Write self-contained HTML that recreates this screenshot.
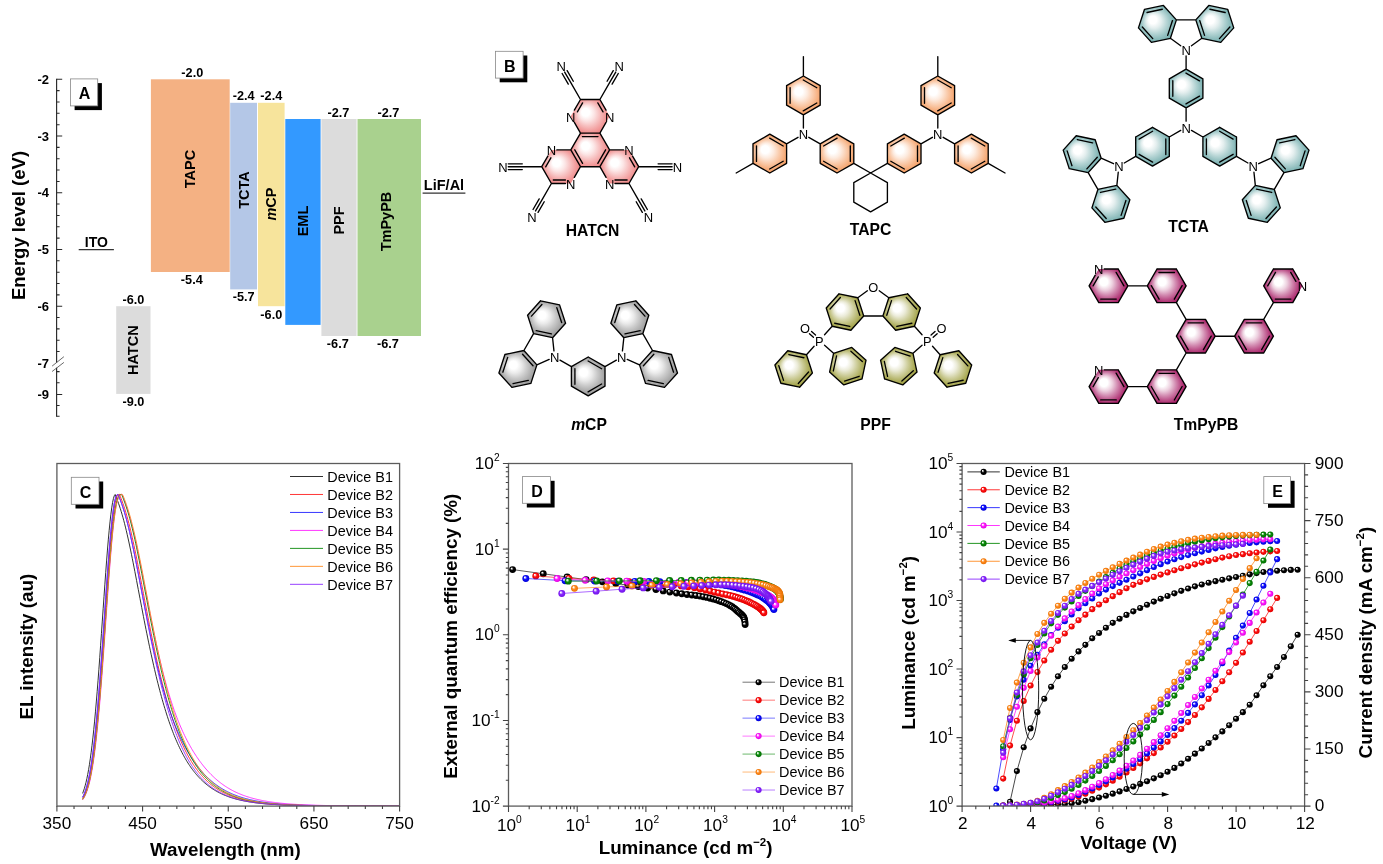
<!DOCTYPE html>
<html lang="en"><head><meta charset="utf-8"><title>Figure</title>
<style>html,body{margin:0;padding:0;background:#fff}svg{display:block;will-change:transform}text{font-family:"Liberation Sans",sans-serif;fill:#000}</style></head><body>
<svg width="1383" height="864" viewBox="0 0 1383 864">
<defs><radialGradient id="gH" gradientUnits="userSpaceOnUse" cx="0" cy="0" r="19.8" fx="-5.8" fy="-5"><stop offset="0" stop-color="#ffffff"/><stop offset="0.2" stop-color="#ffffff"/><stop offset="0.38" stop-color="#fce6e6"/><stop offset="0.58" stop-color="#f7c2c2"/><stop offset="0.76" stop-color="#f3a3a3"/><stop offset="0.9" stop-color="#f08d8d"/><stop offset="1" stop-color="#ef8484"/></radialGradient>
<radialGradient id="gT" gradientUnits="userSpaceOnUse" cx="0" cy="0" r="19.8" fx="-5.8" fy="-5"><stop offset="0" stop-color="#ffffff"/><stop offset="0.2" stop-color="#ffffff"/><stop offset="0.38" stop-color="#fdebdf"/><stop offset="0.58" stop-color="#faceb0"/><stop offset="0.76" stop-color="#f7b588"/><stop offset="0.9" stop-color="#f5a36b"/><stop offset="1" stop-color="#f49c60"/></radialGradient>
<radialGradient id="gC" gradientUnits="userSpaceOnUse" cx="0" cy="0" r="19.8" fx="-5.8" fy="-5"><stop offset="0" stop-color="#ffffff"/><stop offset="0.2" stop-color="#ffffff"/><stop offset="0.38" stop-color="#e3eeee"/><stop offset="0.58" stop-color="#b8d6d6"/><stop offset="0.76" stop-color="#95c1c1"/><stop offset="0.9" stop-color="#7cb2b2"/><stop offset="1" stop-color="#72acac"/></radialGradient>
<radialGradient id="gM" gradientUnits="userSpaceOnUse" cx="0" cy="0" r="19.8" fx="-5.8" fy="-5"><stop offset="0" stop-color="#ffffff"/><stop offset="0.2" stop-color="#ffffff"/><stop offset="0.38" stop-color="#eaeaea"/><stop offset="0.58" stop-color="#cacaca"/><stop offset="0.76" stop-color="#b0b0b0"/><stop offset="0.9" stop-color="#9d9d9d"/><stop offset="1" stop-color="#969696"/></radialGradient>
<radialGradient id="gP" gradientUnits="userSpaceOnUse" cx="0" cy="0" r="19.8" fx="-5.8" fy="-5"><stop offset="0" stop-color="#ffffff"/><stop offset="0.2" stop-color="#ffffff"/><stop offset="0.38" stop-color="#ebebd8"/><stop offset="0.58" stop-color="#cece9c"/><stop offset="0.76" stop-color="#b5b56b"/><stop offset="0.9" stop-color="#a3a348"/><stop offset="1" stop-color="#9c9c3a"/></radialGradient>
<radialGradient id="gY" gradientUnits="userSpaceOnUse" cx="0" cy="0" r="19.8" fx="-5.8" fy="-5"><stop offset="0" stop-color="#ffffff"/><stop offset="0.2" stop-color="#ffffff"/><stop offset="0.38" stop-color="#edd0df"/><stop offset="0.58" stop-color="#d28ab0"/><stop offset="0.76" stop-color="#bb5088"/><stop offset="0.9" stop-color="#aa266b"/><stop offset="1" stop-color="#a41660"/></radialGradient>
<radialGradient id="s0" cx="0.5" cy="0.5" r="0.5" fx="0.32" fy="0.3"><stop offset="0" stop-color="#fff"/><stop offset="0.1" stop-color="#fff"/><stop offset="0.26" stop-color="#8a8a8a"/><stop offset="0.5" stop-color="#000"/><stop offset="1" stop-color="#000"/></radialGradient>
<radialGradient id="s1" cx="0.5" cy="0.5" r="0.5" fx="0.32" fy="0.3"><stop offset="0" stop-color="#fff"/><stop offset="0.1" stop-color="#fff"/><stop offset="0.26" stop-color="#ffb0b0"/><stop offset="0.5" stop-color="#ff1010"/><stop offset="1" stop-color="#e00000"/></radialGradient>
<radialGradient id="s2" cx="0.5" cy="0.5" r="0.5" fx="0.32" fy="0.3"><stop offset="0" stop-color="#fff"/><stop offset="0.1" stop-color="#fff"/><stop offset="0.26" stop-color="#b0b0ff"/><stop offset="0.5" stop-color="#1010ff"/><stop offset="1" stop-color="#0000d8"/></radialGradient>
<radialGradient id="s3" cx="0.5" cy="0.5" r="0.5" fx="0.32" fy="0.3"><stop offset="0" stop-color="#fff"/><stop offset="0.1" stop-color="#fff"/><stop offset="0.26" stop-color="#ffc0ff"/><stop offset="0.5" stop-color="#ff20ff"/><stop offset="1" stop-color="#e000e0"/></radialGradient>
<radialGradient id="s4" cx="0.5" cy="0.5" r="0.5" fx="0.32" fy="0.3"><stop offset="0" stop-color="#fff"/><stop offset="0.1" stop-color="#fff"/><stop offset="0.26" stop-color="#a0d8a0"/><stop offset="0.5" stop-color="#0a8a0a"/><stop offset="1" stop-color="#006a00"/></radialGradient>
<radialGradient id="s5" cx="0.5" cy="0.5" r="0.5" fx="0.32" fy="0.3"><stop offset="0" stop-color="#fff"/><stop offset="0.1" stop-color="#fff"/><stop offset="0.26" stop-color="#ffd0a0"/><stop offset="0.5" stop-color="#ff8a20"/><stop offset="1" stop-color="#e87000"/></radialGradient>
<radialGradient id="s6" cx="0.5" cy="0.5" r="0.5" fx="0.32" fy="0.3"><stop offset="0" stop-color="#fff"/><stop offset="0.1" stop-color="#fff"/><stop offset="0.26" stop-color="#d0b0ff"/><stop offset="0.5" stop-color="#8a2aff"/><stop offset="1" stop-color="#7010e8"/></radialGradient>
<clipPath id="cD"><rect x="508.5" y="463.5" width="343.5" height="342.6"/></clipPath>
<clipPath id="cE"><rect x="962.1" y="463.5" width="342.5" height="342.6"/></clipPath>
<clipPath id="cC"><rect x="56.9" y="463.5" width="342.7" height="342.6"/></clipPath></defs>
<rect width="1383" height="864" fill="#fff"/>
<!-- panel A -->
<path d="M56.6 78.8V362.5M56.6 367.8V416.8" stroke="#2a2a2a" stroke-width="1.15" fill="none"/>
<path d="M56.6 79.3h5.6M56.6 136h5.6M56.6 192.7h5.6M56.6 249.5h5.6M56.6 306.2h5.6M56.6 394.4h5.6M56.6 90.64h3M56.6 101.99h3M56.6 113.33h3M56.6 124.68h3M56.6 147.37h3M56.6 158.71h3M56.6 170.06h3M56.6 181.4h3M56.6 204.09h3M56.6 215.44h3M56.6 226.78h3M56.6 238.13h3M56.6 260.82h3M56.6 272.16h3M56.6 283.51h3M56.6 294.85h3M56.6 317.54h3M56.6 328.89h3M56.6 340.23h3M56.6 351.58h3M56.6 371.6h3M56.6 382.8h3M56.6 405.4h3M56.6 416.3h3" stroke="#2a2a2a" stroke-width="1.05" fill="none"/>
<path d="M52.1 366.1L63.9 356.7M52.1 371.5L63.9 362.4" stroke="#444" stroke-width="0.8" fill="none"/>
<g font-size="13" font-weight="bold" text-anchor="end">
<text x="49" y="83.9">-2</text>
<text x="49" y="140.6">-3</text>
<text x="49" y="197.3">-4</text>
<text x="49" y="254.1">-5</text>
<text x="49" y="310.8">-6</text>
<text x="49" y="367.6">-7</text>
<text x="49" y="399">-9</text>
</g>
<text transform="translate(24.8 225.5) rotate(-90)" text-anchor="middle" font-size="18.5" font-weight="bold">Energy level (eV)</text>
<rect x="116.2" y="306.2" width="34.3" height="87.7" fill="#dcdcdc"/>
<rect x="150.9" y="79.3" width="78.8" height="192.7" fill="#f4b183"/>
<rect x="230.2" y="102.8" width="26.8" height="186.6" fill="#b4c7e7"/>
<rect x="258" y="102.8" width="26.6" height="203.4" fill="#f7e49c"/>
<rect x="285.3" y="119" width="35.3" height="205.9" fill="#3399ff"/>
<rect x="321.4" y="119" width="35.2" height="217" fill="#dcdcdc"/>
<rect x="357.5" y="119" width="63.5" height="217" fill="#a9d18e"/>
<g font-size="14.5" font-weight="bold" text-anchor="middle">
<text transform="translate(138.35 350.2) rotate(-90)">HATCN</text>
<text transform="translate(195.3 169) rotate(-90)">TAPC</text>
<text transform="translate(248.6 190) rotate(-90)">TCTA</text>
<text transform="translate(276.3 204) rotate(-90)"><tspan font-style="italic">m</tspan>CP</text>
<text transform="translate(307.95 221) rotate(-90)">EML</text>
<text transform="translate(344 220.5) rotate(-90)">PPF</text>
<text transform="translate(391.25 221.5) rotate(-90)">TmPyPB</text>
</g>
<g font-size="12.7" font-weight="bold" text-anchor="middle">
<text x="192.3" y="76.5">-2.0</text>
<text x="191.8" y="283.5">-5.4</text>
<text x="243.6" y="100">-2.4</text>
<text x="243.6" y="301">-5.7</text>
<text x="271.3" y="100">-2.4</text>
<text x="271.3" y="318.5">-6.0</text>
<text x="338.5" y="116.5">-2.7</text>
<text x="337.8" y="347.8">-6.7</text>
<text x="388.5" y="116.5">-2.7</text>
<text x="388" y="347.6">-6.7</text>
<text x="133.5" y="303.8">-6.0</text>
<text x="133.5" y="406">-9.0</text>
</g>
<path d="M78.7 249.6H113.9M422.6 193.1H465.4" stroke="#333" stroke-width="1.1"/>
<text x="96.3" y="246.5" font-size="14" text-anchor="middle" font-weight="bold">ITO</text>
<text x="444" y="190" font-size="14.5" text-anchor="middle" font-weight="bold">LiF/Al</text>
<rect x="74.6" y="83.1" width="27.3" height="27" fill="#000"/><rect x="70.4" y="78.9" width="27.3" height="27" fill="#fff" stroke="#888" stroke-width="0.8"/><text x="84.55" y="99.1" font-size="16" text-anchor="middle" font-weight="bold">A</text>
<!-- panel B -->
<rect x="499.7" y="55.5" width="27.6" height="26.8" fill="#000"/><rect x="495.5" y="51.3" width="27.6" height="26.8" fill="#fff" stroke="#888" stroke-width="0.8"/><text x="509.8" y="71.5" font-size="16" text-anchor="middle" font-weight="bold">B</text>
<g>
<g fill="url(#gH)">
<polygon transform="translate(590.2 149.9)" points="19.4,0 9.7,16.8 -9.7,16.8 -19.4,0 -9.7,-16.8 9.7,-16.8"/>
<polygon transform="translate(590.2 116.3)" points="9.7,16.8 -9.7,16.8 -19.4,0 -9.7,-16.8 9.7,-16.8 19.4,0"/>
<polygon transform="translate(619.3 166.7)" points="-19.4,0 -9.7,-16.8 9.7,-16.8 19.4,0 9.7,16.8 -9.7,16.8"/>
<polygon transform="translate(561.1 166.7)" points="9.7,-16.8 19.4,0 9.7,16.8 -9.7,16.8 -19.4,0 -9.7,-16.8"/>
</g>
<path d="M609.6 149.9L599.9 166.7M605.62 149.8L597.82 163.31M599.9 166.7L580.5 166.7M580.5 166.7L570.8 149.9M582.58 163.31L574.78 149.8M570.8 149.9L580.5 133.1M580.5 133.1L599.9 133.1M582.4 136.6L598 136.6M599.9 133.1L609.6 149.9M580.5 133.1L574.35 122.45M574.35 110.15L580.5 99.5M577.38 111.9L582.58 102.89M580.5 99.5L599.9 99.5M599.9 99.5L606.05 110.15M597.82 102.89L603.02 111.9M606.05 122.45L599.9 133.1M580.5 99.5L570.8 82.7M570.8 82.7L564.65 72.05M573.31 81.25L567.16 70.6M568.29 84.15L562.14 73.5M599.9 99.5L609.6 82.7M609.6 82.7L615.75 72.05M612.11 84.15L618.26 73.5M607.09 81.25L613.24 70.6M609.6 149.9L623.6 149.9M632.55 156.05L638.7 166.7M629.52 157.8L634.72 166.81M638.7 166.7L629 183.5M629 183.5L615 183.5M627.1 180L615 180M606.05 177.35L599.9 166.7M638.7 166.7L658.1 166.7M658.1 166.7L672.1 166.7M658.1 169.6L672.1 169.6M658.1 163.8L672.1 163.8M629 183.5L638.7 200.3M638.7 200.3L644.85 210.95M636.19 201.75L642.34 212.4M641.21 198.85L647.36 209.5M580.5 166.7L574.35 177.35M565.4 183.5L551.4 183.5M565.4 180L553.3 180M551.4 183.5L541.7 166.7M541.7 166.7L547.85 156.05M545.68 166.81L550.88 157.8M556.8 149.9L570.8 149.9M551.4 183.5L541.7 200.3M541.7 200.3L535.55 210.95M539.19 198.85L533.04 209.5M544.21 201.75L538.06 212.4M541.7 166.7L522.3 166.7M522.3 166.7L508.3 166.7M522.3 163.8L508.3 163.8M522.3 169.6L508.3 169.6" fill="none" stroke="#000" stroke-width="1.35" stroke-linecap="round"/>
<g font-size="13" text-anchor="middle" fill="#000">
<text x="570.8" y="121.55">N</text>
<text x="609.6" y="121.55">N</text>
<text x="561.1" y="71.15">N</text>
<text x="619.3" y="71.15">N</text>
<text x="629" y="155.15">N</text>
<text x="609.6" y="188.76">N</text>
<text x="677.5" y="171.95">N</text>
<text x="648.4" y="222.36">N</text>
<text x="570.8" y="188.76">N</text>
<text x="551.4" y="155.15">N</text>
<text x="532" y="222.36">N</text>
<text x="502.9" y="171.95">N</text>
</g>
</g>
<g>
<g fill="url(#gT)">
<polygon transform="translate(837 153.6)" points="0,-19.4 16.8,-9.7 16.8,9.7 0,19.4 -16.8,9.7 -16.8,-9.7"/>
<polygon transform="translate(803.4 95.4)" points="0,-19.4 16.8,-9.7 16.8,9.7 0,19.4 -16.8,9.7 -16.8,-9.7"/>
<polygon transform="translate(769.79 153.6)" points="0,-19.4 16.8,-9.7 16.8,9.7 0,19.4 -16.8,9.7 -16.8,-9.7"/>
<polygon transform="translate(904.2 153.6)" points="0,-19.4 16.8,-9.7 16.8,9.7 0,19.4 -16.8,9.7 -16.8,-9.7"/>
<polygon transform="translate(937.8 95.4)" points="0,-19.4 16.8,-9.7 16.8,9.7 0,19.4 -16.8,9.7 -16.8,-9.7"/>
<polygon transform="translate(971.41 153.6)" points="0,-19.4 16.8,-9.7 16.8,9.7 0,19.4 -16.8,9.7 -16.8,-9.7"/>
</g>
<path d="M870.6 173L887.4 182.7M887.4 182.7L887.4 202.1M887.4 202.1L870.6 211.8M870.6 211.8L853.8 202.1M853.8 202.1L853.8 182.7M853.8 182.7L870.6 173M837 134.2L853.8 143.9M853.8 143.9L853.8 163.3M850.3 145.8L850.3 161.4M853.8 163.3L837 173M837 173L820.2 163.3M837.1 169.02L823.59 161.22M820.2 163.3L820.2 143.9M820.2 143.9L837 134.2M823.59 145.98L837.1 138.18M870.6 173L853.8 163.3M820.2 143.9L808.8 137.32M803.4 76L820.2 85.7M803.29 79.98L816.8 87.78M820.2 85.7L820.2 105.1M820.2 105.1L803.4 114.8M816.8 103.02L803.29 110.82M803.4 114.8L786.6 105.1M786.6 105.1L786.6 85.7M790.1 103.2L790.1 87.6M786.6 85.7L803.4 76M803.4 128.05L803.4 114.8M803.4 76L803.4 56.6M769.79 134.2L786.6 143.9M769.69 138.18L783.2 145.98M786.6 143.9L786.6 163.3M786.6 163.3L769.79 173M783.2 161.22L769.69 169.02M769.79 173L752.99 163.3M752.99 163.3L752.99 143.9M756.49 161.4L756.49 145.8M752.99 143.9L769.79 134.2M798 137.32L786.6 143.9M752.99 163.3L736.19 173M904.2 134.2L921 143.9M921 143.9L921 163.3M917.5 145.8L917.5 161.4M921 163.3L904.2 173M904.2 173L887.4 163.3M904.31 169.02L890.8 161.22M887.4 163.3L887.4 143.9M887.4 143.9L904.2 134.2M890.8 145.98L904.31 138.18M870.6 173L887.4 163.3M921 143.9L932.4 137.32M937.8 76L954.6 85.7M937.7 79.98L951.21 87.78M954.6 85.7L954.6 105.1M954.6 105.1L937.8 114.8M951.21 103.02L937.7 110.82M937.8 114.8L921 105.1M921 105.1L921 85.7M924.5 103.2L924.5 87.6M921 85.7L937.8 76M937.8 128.05L937.8 114.8M937.8 76L937.8 56.6M971.41 134.2L988.21 143.9M971.3 138.18L984.81 145.98M988.21 143.9L988.21 163.3M988.21 163.3L971.41 173M984.81 161.22L971.3 169.02M971.41 173L954.6 163.3M954.6 163.3L954.6 143.9M958.1 161.4L958.1 145.8M954.6 143.9L971.41 134.2M943.2 137.32L954.6 143.9M988.21 163.3L1005.01 173" fill="none" stroke="#000" stroke-width="1.35" stroke-linecap="round"/>
<g font-size="13" text-anchor="middle" fill="#000">
<text x="803.4" y="139.45">N</text>
<text x="937.8" y="139.45">N</text>
</g>
</g>
<g>
<g fill="url(#gC)">
<polygon transform="translate(1186.1 88.5)" points="0,-19.4 16.8,-9.7 16.8,9.7 0,19.4 -16.8,9.7 -16.8,-9.7"/>
<polygon transform="translate(1157.42 23.88)" points="12.98,14.42 -5.99,18.45 -18.98,4.03 -12.98,-14.42 5.99,-18.45 18.98,-4.03"/>
<polygon transform="translate(1214.78 23.88)" points="-12.98,14.42 5.99,18.45 18.98,4.03 12.98,-14.42 -5.99,-18.45 -18.98,-4.03"/>
<polygon transform="translate(1219.7 146.7)" points="0,-19.4 16.8,-9.7 16.8,9.7 0,19.4 -16.8,9.7 -16.8,-9.7"/>
<polygon transform="translate(1290 154.18)" points="-18.98,4.03 -12.98,-14.42 5.99,-18.45 18.98,-4.03 12.98,14.42 -5.99,18.45"/>
<polygon transform="translate(1261.33 203.84)" points="-5.99,-18.45 -18.98,-4.03 -12.98,14.42 5.99,18.45 18.98,4.03 12.98,-14.42"/>
<polygon transform="translate(1152.5 146.7)" points="0,-19.4 16.8,-9.7 16.8,9.7 0,19.4 -16.8,9.7 -16.8,-9.7"/>
<polygon transform="translate(1110.87 203.84)" points="5.99,-18.45 18.98,-4.03 12.98,14.42 -5.99,18.45 -18.98,4.03 -12.98,-14.42"/>
<polygon transform="translate(1082.2 154.18)" points="18.98,4.03 12.98,-14.42 -5.99,-18.45 -18.98,-4.03 -12.98,14.42 5.99,18.45"/>
</g>
<path d="M1186.1 69.1L1202.9 78.8M1186 73.08L1199.51 80.88M1202.9 78.8L1202.9 98.2M1202.9 98.2L1186.1 107.9M1199.51 96.12L1186 103.92M1186.1 107.9L1169.3 98.2M1169.3 98.2L1169.3 78.8M1172.8 96.3L1172.8 80.7M1169.3 78.8L1186.1 69.1M1186.1 121.15L1186.1 107.9M1186.1 69.1L1186.1 55.85M1170.41 38.3L1151.43 42.33M1151.43 42.33L1138.45 27.91M1152.76 38.58L1142.32 26.98M1138.45 27.91L1144.44 9.46M1144.44 9.46L1163.42 5.43M1147.03 12.49L1162.29 9.25M1163.42 5.43L1176.4 19.85M1176.4 19.85L1170.41 38.3M1172.48 20.57L1167.66 35.41M1201.79 38.3L1220.77 42.33M1220.77 42.33L1233.75 27.91M1219.44 38.58L1229.88 26.98M1233.75 27.91L1227.76 9.46M1227.76 9.46L1208.78 5.43M1225.17 12.49L1209.91 9.25M1208.78 5.43L1195.8 19.85M1195.8 19.85L1201.79 38.3M1199.72 20.57L1204.54 35.41M1180.7 45.78L1170.41 38.3M1176.4 19.85L1195.8 19.85M1201.79 38.3L1191.5 45.78M1219.7 127.3L1236.5 137M1219.6 131.28L1233.11 139.08M1236.5 137L1236.5 156.4M1236.5 156.4L1219.7 166.1M1233.11 154.32L1219.6 162.12M1219.7 166.1L1202.9 156.4M1202.9 156.4L1202.9 137M1206.4 154.5L1206.4 138.9M1202.9 137L1219.7 127.3M1191.5 130.42L1202.9 137M1236.5 156.4L1247.9 162.98M1271.03 158.21L1277.02 139.76M1277.02 139.76L1296 135.73M1279.61 142.79L1294.87 139.54M1296 135.73L1308.98 150.14M1308.98 150.14L1302.98 168.59M1305.06 150.87L1300.24 165.7M1302.98 168.59L1284.01 172.63M1284.01 172.63L1271.03 158.21M1285.34 168.87L1274.9 157.28M1255.33 185.39L1242.35 199.81M1242.35 199.81L1248.35 218.26M1246.27 200.54L1251.09 215.37M1248.35 218.26L1267.32 222.29M1267.32 222.29L1280.3 207.88M1265.99 218.54L1276.43 206.95M1280.3 207.88L1274.31 189.43M1274.31 189.43L1255.33 185.39M1271.72 192.46L1256.46 189.21M1258.7 163.7L1271.03 158.21M1284.01 172.63L1274.31 189.43M1255.33 185.39L1253.95 172.25M1152.5 127.3L1169.3 137M1169.3 137L1169.3 156.4M1165.8 138.9L1165.8 154.5M1169.3 156.4L1152.5 166.1M1152.5 166.1L1135.7 156.4M1152.6 162.12L1139.09 154.32M1135.7 156.4L1135.7 137M1135.7 137L1152.5 127.3M1139.09 139.08L1152.6 131.28M1180.7 130.42L1169.3 137M1135.7 156.4L1124.3 162.98M1116.87 185.39L1129.85 199.81M1129.85 199.81L1123.85 218.26M1125.93 200.54L1121.11 215.37M1123.85 218.26L1104.88 222.29M1104.88 222.29L1091.9 207.88M1106.21 218.54L1095.77 206.95M1091.9 207.88L1097.89 189.43M1097.89 189.43L1116.87 185.39M1100.48 192.46L1115.74 189.21M1101.17 158.21L1095.18 139.76M1095.18 139.76L1076.2 135.73M1092.59 142.79L1077.33 139.54M1076.2 135.73L1063.22 150.14M1063.22 150.14L1069.22 168.59M1067.14 150.87L1071.96 165.7M1069.22 168.59L1088.19 172.63M1088.19 172.63L1101.17 158.21M1086.86 168.87L1097.3 157.28M1118.25 172.25L1116.87 185.39M1097.89 189.43L1088.19 172.63M1101.17 158.21L1113.5 163.7" fill="none" stroke="#000" stroke-width="1.35" stroke-linecap="round"/>
<g font-size="13" text-anchor="middle" fill="#000">
<text x="1186.1" y="132.55">N</text>
<text x="1186.1" y="54.95">N</text>
<text x="1253.3" y="171.35">N</text>
<text x="1118.9" y="171.35">N</text>
</g>
</g>
<g>
<g fill="url(#gM)">
<polygon transform="translate(588.2 376.4)" points="0,-19.4 16.8,-9.7 16.8,9.7 0,19.4 -16.8,9.7 -16.8,-9.7"/>
<polygon transform="translate(629.82 319.26)" points="-5.99,18.45 -18.98,4.03 -12.98,-14.42 5.99,-18.45 18.98,-4.03 12.98,14.42"/>
<polygon transform="translate(658.5 368.92)" points="-18.98,-4.03 -12.98,14.42 5.99,18.45 18.98,4.03 12.98,-14.42 -5.99,-18.45"/>
<polygon transform="translate(517.9 368.92)" points="18.98,-4.03 12.98,14.42 -5.99,18.45 -18.98,4.03 -12.98,-14.42 5.99,-18.45"/>
<polygon transform="translate(546.58 319.26)" points="5.99,18.45 18.98,4.03 12.98,-14.42 -5.99,-18.45 -18.98,-4.03 -12.98,14.42"/>
</g>
<path d="M588.2 357L605 366.7M588.1 360.98L601.61 368.78M605 366.7L605 386.1M605 386.1L588.2 395.8M601.61 384.02L588.1 391.82M588.2 395.8L571.4 386.1M571.4 386.1L571.4 366.7M574.9 384.2L574.9 368.6M571.4 366.7L588.2 357M605 366.7L616.4 360.12M571.4 366.7L560 360.12M623.83 337.71L610.85 323.29M610.85 323.29L616.84 304.84M614.76 322.56L619.58 307.73M616.84 304.84L635.82 300.81M635.82 300.81L648.8 315.22M634.49 304.56L644.93 316.15M648.8 315.22L642.81 333.67M642.81 333.67L623.83 337.71M640.22 330.64L624.96 333.89M639.52 364.89L645.52 383.34M645.52 383.34L664.5 387.37M648.11 380.31L663.36 383.56M664.5 387.37L677.48 372.96M677.48 372.96L671.48 354.51M673.56 372.23L668.74 357.4M671.48 354.51L652.51 350.47M652.51 350.47L639.52 364.89M653.84 354.23L643.4 365.82M622.45 350.85L623.83 337.71M642.81 333.67L652.51 350.47M639.52 364.89L627.2 359.4M536.88 364.89L530.88 383.34M530.88 383.34L511.9 387.37M528.29 380.31L513.04 383.56M511.9 387.37L498.92 372.96M498.92 372.96L504.92 354.51M502.84 372.23L507.66 357.4M504.92 354.51L523.89 350.47M523.89 350.47L536.88 364.89M522.56 354.23L533 365.82M552.57 337.71L565.55 323.29M565.55 323.29L559.56 304.84M561.64 322.56L556.82 307.73M559.56 304.84L540.58 300.81M540.58 300.81L527.6 315.22M541.91 304.56L531.47 316.15M527.6 315.22L533.59 333.67M533.59 333.67L552.57 337.71M536.18 330.64L551.44 333.89M549.2 359.4L536.88 364.89M523.89 350.47L533.59 333.67M552.57 337.71L553.95 350.85" fill="none" stroke="#000" stroke-width="1.35" stroke-linecap="round"/>
<g font-size="13" text-anchor="middle" fill="#000">
<text x="621.8" y="362.25">N</text>
<text x="554.6" y="362.25">N</text>
</g>
</g>
<g transform="translate(873.3 286.5) scale(0.988) translate(-873.3 -287.1)"><g>
<g fill="url(#gP)">
<polygon transform="translate(901.98 312.92)" points="-12.98,-14.42 5.99,-18.45 18.98,-4.03 12.98,14.42 -5.99,18.45 -18.98,4.03"/>
<polygon transform="translate(953.9 370.59)" points="-12.98,-14.42 5.99,-18.45 18.98,-4.03 12.98,14.42 -5.99,18.45 -18.98,4.03"/>
<polygon transform="translate(899.1 367.72)" points="14.42,-12.98 18.45,5.99 4.03,18.98 -14.42,12.98 -18.45,-5.99 -4.03,-18.98"/>
<polygon transform="translate(844.62 312.92)" points="12.98,-14.42 -5.99,-18.45 -18.98,-4.03 -12.98,14.42 5.99,18.45 18.98,4.03"/>
<polygon transform="translate(792.7 370.59)" points="12.98,-14.42 18.98,4.03 5.99,18.45 -12.98,14.42 -18.98,-4.03 -5.99,-18.45"/>
<polygon transform="translate(847.5 367.72)" points="-14.42,-12.98 4.03,-18.98 18.45,-5.99 14.42,12.98 -4.03,18.98 -18.45,5.99"/>
</g>
<path d="M888.99 298.5L907.97 294.47M907.97 294.47L920.95 308.89M906.64 298.22L917.08 309.82M920.95 308.89L914.96 327.34M914.96 327.34L895.98 331.37M912.37 324.31L897.11 327.55M895.98 331.37L883 316.95M883 316.95L888.99 298.5M886.92 316.23L891.74 301.39M914.96 327.34L922.64 335.87M933.91 338.53L937.93 334.91M931.77 336.15L935.79 332.54M933.24 347.64L940.92 356.17M940.92 356.17L959.9 352.14M959.9 352.14L972.88 366.55M958.57 355.89L969 367.48M972.88 366.55L966.88 385.01M966.88 385.01L947.91 389.04M964.3 381.98L949.04 385.22M947.91 389.04L934.92 374.62M934.92 374.62L940.92 356.17M938.84 373.9L943.66 359.06M922.64 346.53L913.52 354.74M913.52 354.74L917.55 373.71M917.55 373.71L903.14 386.69M913.8 372.38L902.21 382.82M903.14 386.69L884.69 380.7M884.69 380.7L880.65 361.72M887.72 378.11L884.47 362.85M880.65 361.72L895.07 348.74M895.07 348.74L913.52 354.74M895.8 352.66L910.63 357.48M857.61 298.5L838.63 294.47M838.63 294.47L825.65 308.89M839.96 298.22L829.52 309.82M825.65 308.89L831.64 327.34M831.64 327.34L850.62 331.37M834.23 324.31L849.49 327.55M850.62 331.37L863.6 316.95M863.6 316.95L857.61 298.5M859.68 316.23L854.86 301.39M831.64 327.34L823.96 335.87M814.83 336.15L810.81 332.54M812.69 338.53L808.67 334.91M813.36 347.64L805.68 356.17M805.68 356.17L811.68 374.62M811.68 374.62L798.69 389.04M807.8 373.69L797.36 385.28M798.69 389.04L779.72 385.01M779.72 385.01L773.72 366.55M782.46 382.12L777.64 367.28M773.72 366.55L786.7 352.14M786.7 352.14L805.68 356.17M787.84 355.96L803.09 359.2M823.96 346.53L833.08 354.74M833.08 354.74L851.53 348.74M851.53 348.74L865.95 361.72M850.6 352.61L862.19 363.05M865.95 361.72L861.91 380.7M861.91 380.7L843.46 386.69M859.02 377.96L844.19 382.78M843.46 386.69L829.05 373.71M829.05 373.71L833.08 354.74M832.86 372.58L836.11 357.32M879.3 291.46L888.99 298.5M883 316.95L863.6 316.95M857.61 298.5L867.3 291.46" fill="none" stroke="#000" stroke-width="1.35" stroke-linecap="round"/>
<g font-size="13" text-anchor="middle" fill="#000">
<text x="873.3" y="292.35">O</text>
<text x="927.94" y="347.01">P</text>
<text x="942.36" y="334.03">O</text>
<text x="818.66" y="347.01">P</text>
<text x="804.24" y="334.03">O</text>
</g>
</g></g>
<g>
<g fill="url(#gY)">
<polygon transform="translate(1195.8 336.2)" points="19.4,0 9.7,16.8 -9.7,16.8 -19.4,0 -9.7,-16.8 9.7,-16.8"/>
<polygon transform="translate(1254 336.2)" points="19.4,0 9.7,16.8 -9.7,16.8 -19.4,0 -9.7,-16.8 9.7,-16.8"/>
<polygon transform="translate(1166.7 285.8)" points="19.4,0 9.7,16.8 -9.7,16.8 -19.4,0 -9.7,-16.8 9.7,-16.8"/>
<polygon transform="translate(1166.7 386.6)" points="19.4,0 9.7,16.8 -9.7,16.8 -19.4,0 -9.7,-16.8 9.7,-16.8"/>
<polygon transform="translate(1108.5 285.8)" points="19.4,0 9.7,16.8 -9.7,16.8 -19.4,0 -9.7,-16.8 9.7,-16.8"/>
<polygon transform="translate(1108.5 386.6)" points="19.4,0 9.7,16.8 -9.7,16.8 -19.4,0 -9.7,-16.8 9.7,-16.8"/>
<polygon transform="translate(1283.1 285.8)" points="19.4,0 9.7,16.8 -9.7,16.8 -19.4,0 -9.7,-16.8 9.7,-16.8"/>
</g>
<path d="M1215.2 336.2L1205.5 353M1211.22 336.1L1203.42 349.61M1205.5 353L1186.1 353M1186.1 353L1176.4 336.2M1188.18 349.61L1180.38 336.1M1176.4 336.2L1186.1 319.4M1186.1 319.4L1205.5 319.4M1188 322.9L1203.6 322.9M1205.5 319.4L1215.2 336.2M1273.4 336.2L1263.7 353M1269.42 336.1L1261.62 349.61M1263.7 353L1244.3 353M1244.3 353L1234.6 336.2M1246.38 349.61L1238.58 336.1M1234.6 336.2L1244.3 319.4M1244.3 319.4L1263.7 319.4M1246.2 322.9L1261.8 322.9M1263.7 319.4L1273.4 336.2M1186.1 285.8L1176.4 302.6M1182.12 285.69L1174.32 299.2M1176.4 302.6L1157 302.6M1157 302.6L1147.3 285.8M1159.08 299.2L1151.28 285.69M1147.3 285.8L1157 269M1157 269L1176.4 269M1158.9 272.5L1174.5 272.5M1176.4 269L1186.1 285.8M1186.1 386.6L1176.4 403.4M1182.12 386.5L1174.32 400.01M1176.4 403.4L1157 403.4M1157 403.4L1147.3 386.6M1159.08 400.01L1151.28 386.5M1147.3 386.6L1157 369.8M1157 369.8L1176.4 369.8M1158.9 373.3L1174.5 373.3M1176.4 369.8L1186.1 386.6M1127.9 285.8L1118.2 302.6M1118.2 302.6L1098.8 302.6M1116.3 299.1L1100.7 299.1M1098.8 302.6L1089.1 285.8M1089.1 285.8L1095.25 275.15M1093.08 285.9L1098.28 276.9M1104.2 269L1118.2 269M1118.2 269L1127.9 285.8M1116.12 272.39L1123.92 285.9M1127.9 386.6L1118.2 403.4M1118.2 403.4L1098.8 403.4M1116.3 399.9L1100.7 399.9M1098.8 403.4L1089.1 386.6M1089.1 386.6L1095.25 375.95M1093.08 386.71L1098.28 377.7M1104.2 369.8L1118.2 369.8M1118.2 369.8L1127.9 386.6M1116.12 373.2L1123.92 386.71M1298.95 291.95L1292.8 302.6M1292.8 302.6L1273.4 302.6M1290.9 299.1L1275.3 299.1M1273.4 302.6L1263.7 285.8M1263.7 285.8L1273.4 269M1267.68 285.9L1275.48 272.39M1273.4 269L1292.8 269M1292.8 269L1298.95 279.65M1290.72 272.39L1295.92 281.4M1215.2 336.2L1234.6 336.2M1186.1 319.4L1176.4 302.6M1186.1 353L1176.4 369.8M1147.3 285.8L1127.9 285.8M1147.3 386.6L1127.9 386.6M1263.7 319.4L1273.4 302.6" fill="none" stroke="#000" stroke-width="1.35" stroke-linecap="round"/>
<g font-size="13" text-anchor="middle" fill="#000">
<text x="1098.8" y="274.25">N</text>
<text x="1098.8" y="375.06">N</text>
<text x="1302.5" y="291.05">N</text>
</g>
</g>
<g font-size="15.7" font-weight="bold" text-anchor="middle">
<text x="592.6" y="235.6">HATCN</text>
<text x="870.6" y="235">TAPC</text>
<text x="1188.6" y="231.5">TCTA</text>
<text x="589" y="429.5"><tspan font-style="italic">m</tspan>CP</text>
<text x="875.5" y="429.5">PPF</text>
<text x="1206" y="429.5">TmPyPB</text>
</g>
<!-- panel C -->
<g clip-path="url(#cC)">
<polyline points="82.6,793.42 83.46,791.16 84.32,788.57 85.17,785.63 86.03,782.3 86.89,778.54 87.74,774.32 88.6,769.62 89.46,764.4 90.31,758.64 91.17,752.31 92.03,745.4 92.88,737.9 93.74,729.8 94.6,721.11 95.45,711.83 96.31,701.98 97.17,691.61 98.02,680.73 98.88,669.42 99.74,657.72 100.59,645.71 101.45,633.48 102.31,621.1 103.16,608.69 104.02,596.36 104.88,584.21 105.73,572.36 106.59,560.93 107.45,550.05 108.31,539.84 109.16,530.4 110.02,521.86 110.88,514.31 111.73,507.84 112.59,502.54 113.45,498.47 114.3,495.68 115.16,494.51 116.02,496.67 116.87,498.88 117.73,501.16 118.59,503.54 119.44,506.02 120.3,508.62 121.16,511.36 122.01,514.22 122.87,517.23 123.73,520.37 124.58,523.65 125.44,527.07 126.3,530.62 127.15,534.29 128.01,538.07 128.87,541.97 129.72,545.97 130.58,550.06 131.44,554.24 132.29,558.48 133.15,562.8 134.01,567.17 134.86,571.58 135.72,576.03 136.58,580.51 137.43,585.01 138.29,589.52 139.15,594.03 140,598.54 140.86,603.04 141.72,607.52 142.58,611.98 143.43,616.41 144.29,620.8 145.15,625.16 146,629.47 146.86,633.74 147.72,637.95 148.57,642.11 149.43,646.21 150.29,650.25 151.14,654.22 152,658.14 152.86,661.98 153.71,665.76 154.57,669.48 155.43,673.12 156.28,676.69 157.14,680.19 158,683.62 158.85,686.97 159.71,690.26 160.57,693.47 161.42,696.61 162.28,699.68 163.14,702.68 163.99,705.61 164.85,708.48 165.71,711.27 166.56,713.99 167.42,716.65 168.28,719.24 169.13,721.77 169.99,724.23 170.85,726.63 171.7,728.96 172.56,731.24 173.42,733.45 174.27,735.61 175.13,737.71 175.99,739.75 176.85,741.73 177.7,743.66 178.56,745.54 179.42,747.37 180.27,749.15 181.13,750.87 181.99,752.55 182.84,754.18 183.7,755.76 184.56,757.3 185.41,758.79 186.27,760.25 187.13,761.65 187.98,763.02 188.84,764.35 189.7,765.64 190.55,766.89 191.41,768.11 192.27,769.29 193.12,770.43 193.98,771.54 194.84,772.62 195.69,773.66 196.55,774.68 197.41,775.66 198.26,776.61 199.12,777.54 199.98,778.44 200.83,779.31 201.69,780.15 202.55,780.97 203.4,781.76 204.26,782.53 205.12,783.27 205.97,783.99 206.83,784.69 207.69,785.37 208.54,786.03 209.4,786.67 210.26,787.28 211.12,787.88 211.97,788.46 212.83,789.02 213.69,789.57 214.54,790.1 215.4,790.61 216.26,791.1 217.11,791.58 217.97,792.04 218.83,792.49 219.68,792.93 220.54,793.35 221.4,793.76 222.25,794.16 223.11,794.54 223.97,794.91 224.82,795.27 225.68,795.62 226.54,795.96 227.39,796.28 228.25,796.6 229.11,796.91 229.96,797.2 230.82,797.49 231.68,797.77 232.53,798.04 233.39,798.3 234.25,798.55 235.1,798.79 235.96,799.03 236.82,799.26 237.67,799.48 238.53,799.69 239.39,799.9 240.24,800.1 241.1,800.3 241.96,800.48 242.81,800.67 243.67,800.84 244.53,801.01 245.39,801.18 246.24,801.34 247.1,801.49 247.96,801.64 248.81,801.79 249.67,801.93 250.53,802.06 251.38,802.2 252.24,802.32 253.1,802.45 253.95,802.56 254.81,802.68 255.67,802.79 256.52,802.9 257.38,803 258.24,803.1 259.09,803.2 259.95,803.3 260.81,803.39 261.66,803.48 262.52,803.56 263.38,803.65 264.23,803.73 265.09,803.8 265.95,803.88 266.8,803.95 267.66,804.02 268.52,804.09 269.37,804.15 270.23,804.22 271.09,804.28 271.94,804.34 272.8,804.4 273.66,804.45 274.51,804.51 275.37,804.56 276.23,804.61 277.08,804.66 277.94,804.71 278.8,804.75 279.66,804.8 280.51,804.84 281.37,804.88 282.23,804.92 283.08,804.96 283.94,805 284.8,805.03 285.65,805.07 286.51,805.1 287.37,805.13 288.22,805.17 289.08,805.2 289.94,805.23 290.79,805.25 291.65,805.28 292.51,805.31 293.36,805.34 294.22,805.36 295.08,805.38 295.93,805.41 296.79,805.43 297.65,805.45 298.5,805.47 299.36,805.49 300.22,805.51 301.07,805.53 301.93,805.55 302.79,805.57 303.64,805.59 304.5,805.6 305.36,805.62 306.21,805.64 307.07,805.65 307.93,805.67 308.78,805.68 309.64,805.7 310.5,805.71 311.35,805.72 312.21,805.73 313.07,805.75 313.93,805.76 314.78,805.77 315.64,805.78 316.5,805.79 317.35,805.8 318.21,805.81 319.07,805.82 319.92,805.83 320.78,805.84 321.64,805.85 322.49,805.86 323.35,805.86 324.21,805.87 325.06,805.88 325.92,805.89 326.78,805.89 327.63,805.9 328.49,805.91 329.35,805.91 330.2,805.92 331.06,805.92 331.92,805.93 332.77,805.94 333.63,805.94 334.49,805.95 335.34,805.95 336.2,805.96 337.06,805.96 337.91,805.97 338.77,805.97 339.63,805.97 340.48,805.98 341.34,805.98 342.2,805.99 343.05,805.99 343.91,805.99 344.77,806 345.62,806 346.48,806 347.34,806.01 348.19,806.01 349.05,806.01 349.91,806.02 350.77,806.02 351.62,806.02 352.48,806.02 353.34,806.03 354.19,806.03 355.05,806.03 355.91,806.03 356.76,806.04 357.62,806.04 358.48,806.04 359.33,806.04 360.19,806.04 361.05,806.05 361.9,806.05 362.76,806.05 363.62,806.05 364.47,806.05 365.33,806.05 366.19,806.06 367.04,806.06 367.9,806.06 368.76,806.06 369.61,806.06 370.47,806.06 371.33,806.06 372.18,806.07 373.04,806.07 373.9,806.07 374.75,806.07 375.61,806.07 376.47,806.07 377.32,806.07 378.18,806.07 379.04,806.07 379.89,806.07 380.75,806.08 381.61,806.08 382.47,806.08 383.32,806.08 384.18,806.08 385.04,806.08 385.89,806.08 386.75,806.08 387.61,806.08 388.46,806.08 389.32,806.08 390.18,806.08 391.03,806.08 391.89,806.08 392.75,806.08 393.6,806.08 394.46,806.09 395.32,806.09 396.17,806.09 397.03,806.09 397.89,806.09 398.74,806.09 399.6,806.09" fill="none" stroke="#1a1a1a" stroke-width="0.9"/>
<polyline points="82.6,798.4 83.46,796.92 84.32,795.19 85.17,793.2 86.03,790.91 86.89,788.3 87.74,785.32 88.6,781.94 89.46,778.14 90.31,773.87 91.17,769.12 92.03,763.85 92.88,758.03 93.74,751.65 94.6,744.68 95.45,737.12 96.31,728.96 97.17,720.21 98.02,710.87 98.88,700.97 99.74,690.54 100.59,679.62 101.45,668.27 102.31,656.53 103.16,644.5 104.02,632.25 104.88,619.87 105.73,607.47 106.59,595.16 107.45,583.05 108.31,571.26 109.16,559.92 110.02,549.16 110.88,539.09 111.73,529.84 112.59,521.52 113.45,514.25 114.3,508.1 115.16,503.14 116.02,499.39 116.87,496.81 117.73,495.26 118.59,494.51 119.44,494.3 120.3,496.46 121.16,498.66 122.01,500.93 122.87,503.3 123.73,505.77 124.58,508.36 125.44,511.08 126.3,513.93 127.15,516.92 128.01,520.05 128.87,523.32 129.72,526.72 130.58,530.26 131.44,533.91 132.29,537.69 133.15,541.58 134.01,545.57 134.86,549.65 135.72,553.82 136.58,558.06 137.43,562.36 138.29,566.73 139.15,571.14 140,575.59 140.86,580.06 141.72,584.56 142.58,589.07 143.43,593.58 144.29,598.09 145.15,602.59 146,607.08 146.86,611.54 147.72,615.97 148.57,620.37 149.43,624.73 150.29,629.04 151.14,633.31 152,637.53 152.86,641.69 153.71,645.8 154.57,649.84 155.43,653.83 156.28,657.75 157.14,661.6 158,665.39 158.85,669.11 159.71,672.76 160.57,676.33 161.42,679.84 162.28,683.28 163.14,686.64 163.99,689.93 164.85,693.15 165.71,696.3 166.56,699.38 167.42,702.39 168.28,705.32 169.13,708.19 169.99,710.99 170.85,713.72 171.7,716.39 172.56,718.98 173.42,721.52 174.27,723.98 175.13,726.39 175.99,728.73 176.85,731.01 177.7,733.23 178.56,735.39 179.42,737.5 180.27,739.55 181.13,741.54 181.99,743.47 182.84,745.36 183.7,747.19 184.56,748.97 185.41,750.7 186.27,752.38 187.13,754.02 187.98,755.61 188.84,757.15 189.7,758.65 190.55,760.1 191.41,761.52 192.27,762.89 193.12,764.22 193.98,765.51 194.84,766.77 195.69,767.99 196.55,769.17 197.41,770.32 198.26,771.43 199.12,772.51 199.98,773.56 200.83,774.58 201.69,775.56 202.55,776.52 203.4,777.45 204.26,778.35 205.12,779.22 205.97,780.07 206.83,780.89 207.69,781.68 208.54,782.45 209.4,783.2 210.26,783.92 211.12,784.62 211.97,785.31 212.83,785.96 213.69,786.6 214.54,787.22 215.4,787.82 216.26,788.4 217.11,788.97 217.97,789.51 218.83,790.04 219.68,790.56 220.54,791.05 221.4,791.53 222.25,792 223.11,792.45 223.97,792.89 224.82,793.31 225.68,793.72 226.54,794.12 227.39,794.5 228.25,794.87 229.11,795.24 229.96,795.58 230.82,795.92 231.68,796.25 232.53,796.57 233.39,796.87 234.25,797.17 235.1,797.46 235.96,797.74 236.82,798.01 237.67,798.27 238.53,798.52 239.39,798.77 240.24,799.01 241.1,799.23 241.96,799.46 242.81,799.67 243.67,799.88 244.53,800.08 245.39,800.28 246.24,800.47 247.1,800.65 247.96,800.83 248.81,801 249.67,801.16 250.53,801.32 251.38,801.48 252.24,801.63 253.1,801.77 253.95,801.91 254.81,802.05 255.67,802.18 256.52,802.31 257.38,802.43 258.24,802.55 259.09,802.67 259.95,802.78 260.81,802.89 261.66,802.99 262.52,803.09 263.38,803.19 264.23,803.29 265.09,803.38 265.95,803.47 266.8,803.55 267.66,803.64 268.52,803.72 269.37,803.8 270.23,803.87 271.09,803.94 271.94,804.01 272.8,804.08 273.66,804.15 274.51,804.21 275.37,804.27 276.23,804.33 277.08,804.39 277.94,804.45 278.8,804.5 279.66,804.55 280.51,804.6 281.37,804.65 282.23,804.7 283.08,804.75 283.94,804.79 284.8,804.83 285.65,804.88 286.51,804.92 287.37,804.95 288.22,804.99 289.08,805.03 289.94,805.06 290.79,805.1 291.65,805.13 292.51,805.16 293.36,805.19 294.22,805.22 295.08,805.25 295.93,805.28 296.79,805.31 297.65,805.33 298.5,805.36 299.36,805.38 300.22,805.41 301.07,805.43 301.93,805.45 302.79,805.47 303.64,805.49 304.5,805.51 305.36,805.53 306.21,805.55 307.07,805.57 307.93,805.59 308.78,805.6 309.64,805.62 310.5,805.64 311.35,805.65 312.21,805.67 313.07,805.68 313.93,805.69 314.78,805.71 315.64,805.72 316.5,805.73 317.35,805.74 318.21,805.76 319.07,805.77 319.92,805.78 320.78,805.79 321.64,805.8 322.49,805.81 323.35,805.82 324.21,805.83 325.06,805.84 325.92,805.85 326.78,805.85 327.63,805.86 328.49,805.87 329.35,805.88 330.2,805.89 331.06,805.89 331.92,805.9 332.77,805.91 333.63,805.91 334.49,805.92 335.34,805.92 336.2,805.93 337.06,805.94 337.91,805.94 338.77,805.95 339.63,805.95 340.48,805.96 341.34,805.96 342.2,805.97 343.05,805.97 343.91,805.97 344.77,805.98 345.62,805.98 346.48,805.99 347.34,805.99 348.19,805.99 349.05,806 349.91,806 350.77,806 351.62,806.01 352.48,806.01 353.34,806.01 354.19,806.02 355.05,806.02 355.91,806.02 356.76,806.02 357.62,806.03 358.48,806.03 359.33,806.03 360.19,806.03 361.05,806.04 361.9,806.04 362.76,806.04 363.62,806.04 364.47,806.04 365.33,806.05 366.19,806.05 367.04,806.05 367.9,806.05 368.76,806.05 369.61,806.05 370.47,806.06 371.33,806.06 372.18,806.06 373.04,806.06 373.9,806.06 374.75,806.06 375.61,806.06 376.47,806.07 377.32,806.07 378.18,806.07 379.04,806.07 379.89,806.07 380.75,806.07 381.61,806.07 382.47,806.07 383.32,806.07 384.18,806.07 385.04,806.08 385.89,806.08 386.75,806.08 387.61,806.08 388.46,806.08 389.32,806.08 390.18,806.08 391.03,806.08 391.89,806.08 392.75,806.08 393.6,806.08 394.46,806.08 395.32,806.08 396.17,806.08 397.03,806.08 397.89,806.08 398.74,806.09 399.6,806.09" fill="none" stroke="#ff2020" stroke-width="0.9"/>
<polyline points="82.6,797.23 83.46,795.56 84.32,793.62 85.17,791.4 86.03,788.85 86.89,785.94 87.74,782.65 88.6,778.93 89.46,774.76 90.31,770.11 91.17,764.94 92.03,759.24 92.88,752.97 93.74,746.12 94.6,738.68 95.45,730.64 96.31,722 97.17,712.78 98.02,702.99 98.88,692.67 99.74,681.84 100.59,670.57 101.45,658.9 102.31,646.92 103.16,634.71 104.02,622.34 104.88,609.93 105.73,597.59 106.59,585.41 107.45,573.53 108.31,562.06 109.16,551.12 110.02,540.84 110.88,531.34 111.73,522.73 112.59,515.12 113.45,508.62 114.3,503.31 115.16,499.27 116.02,496.51 116.87,494.96 117.73,494.35 118.59,495.59 119.44,497.77 120.3,500.01 121.16,502.34 122.01,504.76 122.87,507.3 123.73,509.96 124.58,512.76 125.44,515.69 126.3,518.75 127.15,521.96 128.01,525.3 128.87,528.77 129.72,532.36 130.58,536.08 131.44,539.91 132.29,543.84 133.15,547.86 134.01,551.97 134.86,556.16 135.72,560.41 136.58,564.73 137.43,569.09 138.29,573.48 139.15,577.91 140,582.36 140.86,586.82 141.72,591.29 142.58,595.75 143.43,600.2 144.29,604.63 145.15,609.04 146,613.42 146.86,617.77 147.72,622.07 148.57,626.33 149.43,630.54 150.29,634.69 151.14,638.79 152,642.83 152.86,646.8 153.71,650.71 154.57,654.56 155.43,658.33 156.28,662.03 157.14,665.66 158,669.22 158.85,672.71 159.71,676.12 160.57,679.46 161.42,682.72 162.28,685.91 163.14,689.02 163.99,692.06 164.85,695.03 165.71,697.93 166.56,700.75 167.42,703.51 168.28,706.19 169.13,708.81 169.99,711.36 170.85,713.85 171.7,716.27 172.56,718.63 173.42,720.92 174.27,723.16 175.13,725.34 175.99,727.47 176.85,729.53 177.7,731.55 178.56,733.51 179.42,735.42 180.27,737.28 181.13,739.1 181.99,740.87 182.84,742.59 183.7,744.27 184.56,745.91 185.41,747.51 186.27,749.07 187.13,750.59 187.98,752.07 188.84,753.51 189.7,754.92 190.55,756.3 191.41,757.64 192.27,758.95 193.12,760.22 193.98,761.47 194.84,762.68 195.69,763.87 196.55,765.02 197.41,766.15 198.26,767.25 199.12,768.32 199.98,769.37 200.83,770.38 201.69,771.38 202.55,772.35 203.4,773.29 204.26,774.21 205.12,775.11 205.97,775.98 206.83,776.84 207.69,777.67 208.54,778.47 209.4,779.26 210.26,780.03 211.12,780.77 211.97,781.5 212.83,782.21 213.69,782.9 214.54,783.57 215.4,784.22 216.26,784.85 217.11,785.47 217.97,786.07 218.83,786.65 219.68,787.22 220.54,787.77 221.4,788.31 222.25,788.83 223.11,789.34 223.97,789.83 224.82,790.31 225.68,790.78 226.54,791.23 227.39,791.67 228.25,792.1 229.11,792.51 229.96,792.91 230.82,793.31 231.68,793.69 232.53,794.05 233.39,794.41 234.25,794.76 235.1,795.1 235.96,795.43 236.82,795.75 237.67,796.06 238.53,796.36 239.39,796.65 240.24,796.93 241.1,797.21 241.96,797.48 242.81,797.73 243.67,797.99 244.53,798.23 245.39,798.47 246.24,798.7 247.1,798.92 247.96,799.14 248.81,799.35 249.67,799.55 250.53,799.75 251.38,799.94 252.24,800.13 253.1,800.31 253.95,800.48 254.81,800.65 255.67,800.82 256.52,800.98 257.38,801.13 258.24,801.28 259.09,801.43 259.95,801.57 260.81,801.71 261.66,801.84 262.52,801.97 263.38,802.1 264.23,802.22 265.09,802.34 265.95,802.45 266.8,802.56 267.66,802.67 268.52,802.77 269.37,802.87 270.23,802.97 271.09,803.07 271.94,803.16 272.8,803.25 273.66,803.34 274.51,803.42 275.37,803.5 276.23,803.58 277.08,803.66 277.94,803.73 278.8,803.81 279.66,803.88 280.51,803.94 281.37,804.01 282.23,804.07 283.08,804.14 283.94,804.2 284.8,804.25 285.65,804.31 286.51,804.36 287.37,804.42 288.22,804.47 289.08,804.52 289.94,804.57 290.79,804.61 291.65,804.66 292.51,804.7 293.36,804.75 294.22,804.79 295.08,804.83 295.93,804.87 296.79,804.91 297.65,804.94 298.5,804.98 299.36,805.01 300.22,805.05 301.07,805.08 301.93,805.11 302.79,805.14 303.64,805.17 304.5,805.2 305.36,805.23 306.21,805.25 307.07,805.28 307.93,805.3 308.78,805.33 309.64,805.35 310.5,805.37 311.35,805.4 312.21,805.42 313.07,805.44 313.93,805.46 314.78,805.48 315.64,805.5 316.5,805.52 317.35,805.53 318.21,805.55 319.07,805.57 319.92,805.59 320.78,805.6 321.64,805.62 322.49,805.63 323.35,805.65 324.21,805.66 325.06,805.67 325.92,805.69 326.78,805.7 327.63,805.71 328.49,805.72 329.35,805.74 330.2,805.75 331.06,805.76 331.92,805.77 332.77,805.78 333.63,805.79 334.49,805.8 335.34,805.81 336.2,805.82 337.06,805.82 337.91,805.83 338.77,805.84 339.63,805.85 340.48,805.86 341.34,805.86 342.2,805.87 343.05,805.88 343.91,805.89 344.77,805.89 345.62,805.9 346.48,805.9 347.34,805.91 348.19,805.92 349.05,805.92 349.91,805.93 350.77,805.93 351.62,805.94 352.48,805.94 353.34,805.95 354.19,805.95 355.05,805.96 355.91,805.96 356.76,805.97 357.62,805.97 358.48,805.97 359.33,805.98 360.19,805.98 361.05,805.99 361.9,805.99 362.76,805.99 363.62,806 364.47,806 365.33,806 366.19,806.01 367.04,806.01 367.9,806.01 368.76,806.01 369.61,806.02 370.47,806.02 371.33,806.02 372.18,806.02 373.04,806.03 373.9,806.03 374.75,806.03 375.61,806.03 376.47,806.03 377.32,806.04 378.18,806.04 379.04,806.04 379.89,806.04 380.75,806.04 381.61,806.05 382.47,806.05 383.32,806.05 384.18,806.05 385.04,806.05 385.89,806.05 386.75,806.06 387.61,806.06 388.46,806.06 389.32,806.06 390.18,806.06 391.03,806.06 391.89,806.06 392.75,806.06 393.6,806.07 394.46,806.07 395.32,806.07 396.17,806.07 397.03,806.07 397.89,806.07 398.74,806.07 399.6,806.07" fill="none" stroke="#2020ff" stroke-width="0.9"/>
<polyline points="82.6,799.9 83.46,798.67 84.32,797.23 85.17,795.56 86.03,793.62 86.89,791.4 87.74,788.85 88.6,785.94 89.46,782.65 90.31,778.93 91.17,774.77 92.03,770.11 92.88,764.95 93.74,759.24 94.6,752.98 95.45,746.13 96.31,738.7 97.17,730.66 98.02,722.04 98.88,712.83 99.74,703.05 100.59,692.75 101.45,681.95 102.31,670.71 103.16,659.1 104.02,647.18 104.88,635.04 105.73,622.77 106.59,610.48 107.45,598.29 108.31,586.29 109.16,574.63 110.02,563.41 110.88,552.77 111.73,542.82 112.59,533.66 113.45,525.4 114.3,518.12 115.16,511.86 116.02,506.66 116.87,502.5 117.73,499.35 118.59,497.12 119.44,495.66 120.3,494.82 121.16,494.42 122.01,494.3 122.87,496.46 123.73,498.66 124.58,500.93 125.44,503.29 126.3,505.76 127.15,508.34 128.01,511.06 128.87,513.9 129.72,516.88 130.58,520 131.44,523.26 132.29,526.64 133.15,530.16 134.01,533.8 134.86,537.55 135.72,541.41 136.58,545.37 137.43,549.42 138.29,553.56 139.15,557.76 140,562.02 140.86,566.34 141.72,570.7 142.58,575.1 143.43,579.51 144.29,583.95 145.15,588.39 146,592.83 146.86,597.27 147.72,601.69 148.57,606.08 149.43,610.45 150.29,614.79 151.14,619.08 152,623.33 152.86,627.53 153.71,631.68 154.57,635.78 155.43,639.81 156.28,643.78 157.14,647.68 158,651.52 158.85,655.28 159.71,658.98 160.57,662.6 161.42,666.15 162.28,669.62 163.14,673.02 163.99,676.34 164.85,679.59 165.71,682.76 166.56,685.86 167.42,688.88 168.28,691.83 169.13,694.7 169.99,697.5 170.85,700.23 171.7,702.89 172.56,705.48 173.42,708.01 174.27,710.47 175.13,712.86 175.99,715.19 176.85,717.46 177.7,719.67 178.56,721.82 179.42,723.92 180.27,725.96 181.13,727.95 181.99,729.89 182.84,731.78 183.7,733.62 184.56,735.42 185.41,737.17 186.27,738.88 187.13,740.55 187.98,742.18 188.84,743.77 189.7,745.32 190.55,746.84 191.41,748.32 192.27,749.77 193.12,751.18 193.98,752.56 194.84,753.91 195.69,755.24 196.55,756.53 197.41,757.79 198.26,759.02 199.12,760.23 199.98,761.41 200.83,762.57 201.69,763.69 202.55,764.8 203.4,765.88 204.26,766.93 205.12,767.96 205.97,768.97 206.83,769.95 207.69,770.91 208.54,771.85 209.4,772.77 210.26,773.66 211.12,774.54 211.97,775.39 212.83,776.22 213.69,777.03 214.54,777.83 215.4,778.6 216.26,779.36 217.11,780.09 217.97,780.81 218.83,781.51 219.68,782.19 220.54,782.85 221.4,783.5 222.25,784.13 223.11,784.75 223.97,785.35 224.82,785.93 225.68,786.5 226.54,787.05 227.39,787.59 228.25,788.11 229.11,788.62 229.96,789.12 230.82,789.6 231.68,790.07 232.53,790.53 233.39,790.97 234.25,791.41 235.1,791.83 235.96,792.24 236.82,792.63 237.67,793.02 238.53,793.4 239.39,793.76 240.24,794.12 241.1,794.46 241.96,794.8 242.81,795.13 243.67,795.45 244.53,795.75 245.39,796.05 246.24,796.35 247.1,796.63 247.96,796.9 248.81,797.17 249.67,797.43 250.53,797.68 251.38,797.93 252.24,798.17 253.1,798.4 253.95,798.62 254.81,798.84 255.67,799.05 256.52,799.26 257.38,799.46 258.24,799.65 259.09,799.84 259.95,800.03 260.81,800.2 261.66,800.38 262.52,800.55 263.38,800.71 264.23,800.87 265.09,801.02 265.95,801.17 266.8,801.31 267.66,801.46 268.52,801.59 269.37,801.72 270.23,801.85 271.09,801.98 271.94,802.1 272.8,802.22 273.66,802.33 274.51,802.44 275.37,802.55 276.23,802.66 277.08,802.76 277.94,802.86 278.8,802.95 279.66,803.05 280.51,803.14 281.37,803.22 282.23,803.31 283.08,803.39 283.94,803.47 284.8,803.55 285.65,803.62 286.51,803.7 287.37,803.77 288.22,803.84 289.08,803.9 289.94,803.97 290.79,804.03 291.65,804.09 292.51,804.15 293.36,804.21 294.22,804.27 295.08,804.32 295.93,804.37 296.79,804.43 297.65,804.48 298.5,804.52 299.36,804.57 300.22,804.62 301.07,804.66 301.93,804.7 302.79,804.74 303.64,804.78 304.5,804.82 305.36,804.86 306.21,804.9 307.07,804.93 307.93,804.97 308.78,805 309.64,805.03 310.5,805.07 311.35,805.1 312.21,805.13 313.07,805.16 313.93,805.18 314.78,805.21 315.64,805.24 316.5,805.26 317.35,805.29 318.21,805.31 319.07,805.34 319.92,805.36 320.78,805.38 321.64,805.4 322.49,805.42 323.35,805.44 324.21,805.46 325.06,805.48 325.92,805.5 326.78,805.52 327.63,805.54 328.49,805.55 329.35,805.57 330.2,805.58 331.06,805.6 331.92,805.61 332.77,805.63 333.63,805.64 334.49,805.66 335.34,805.67 336.2,805.68 337.06,805.7 337.91,805.71 338.77,805.72 339.63,805.73 340.48,805.74 341.34,805.75 342.2,805.76 343.05,805.77 343.91,805.78 344.77,805.79 345.62,805.8 346.48,805.81 347.34,805.82 348.19,805.83 349.05,805.84 349.91,805.84 350.77,805.85 351.62,805.86 352.48,805.87 353.34,805.87 354.19,805.88 355.05,805.89 355.91,805.89 356.76,805.9 357.62,805.9 358.48,805.91 359.33,805.92 360.19,805.92 361.05,805.93 361.9,805.93 362.76,805.94 363.62,805.94 364.47,805.95 365.33,805.95 366.19,805.96 367.04,805.96 367.9,805.96 368.76,805.97 369.61,805.97 370.47,805.98 371.33,805.98 372.18,805.98 373.04,805.99 373.9,805.99 374.75,805.99 375.61,806 376.47,806 377.32,806 378.18,806.01 379.04,806.01 379.89,806.01 380.75,806.01 381.61,806.02 382.47,806.02 383.32,806.02 384.18,806.02 385.04,806.03 385.89,806.03 386.75,806.03 387.61,806.03 388.46,806.03 389.32,806.04 390.18,806.04 391.03,806.04 391.89,806.04 392.75,806.04 393.6,806.05 394.46,806.05 395.32,806.05 396.17,806.05 397.03,806.05 397.89,806.05 398.74,806.05 399.6,806.06" fill="none" stroke="#ff20ff" stroke-width="0.9"/>
<polyline points="82.6,799.31 83.46,797.98 84.32,796.43 85.17,794.63 86.03,792.55 86.89,790.17 87.74,787.44 88.6,784.35 89.46,780.85 90.31,776.91 91.17,772.5 92.03,767.6 92.88,762.17 93.74,756.18 94.6,749.63 95.45,742.49 96.31,734.75 97.17,726.42 98.02,717.5 98.88,708.01 99.74,697.97 100.59,687.41 101.45,676.38 102.31,664.95 103.16,653.17 104.02,641.13 104.88,628.91 105.73,616.62 106.59,604.37 107.45,592.26 108.31,580.41 109.16,568.96 110.02,558.01 110.88,547.7 111.73,538.13 112.59,529.42 113.45,521.63 114.3,514.86 115.16,509.13 116.02,504.45 116.87,500.81 117.73,498.13 118.59,496.3 119.44,495.17 120.3,494.57 121.16,494.33 122.01,495.37 122.87,497.55 123.73,499.79 124.58,502.1 125.44,504.52 126.3,507.05 127.15,509.7 128.01,512.49 128.87,515.41 129.72,518.47 130.58,521.67 131.44,525 132.29,528.47 133.15,532.07 134.01,535.79 134.86,539.62 135.72,543.56 136.58,547.6 137.43,551.72 138.29,555.93 139.15,560.2 140,564.54 140.86,568.93 141.72,573.36 142.58,577.82 143.43,582.31 144.29,586.81 145.15,591.33 146,595.84 146.86,600.34 147.72,604.84 148.57,609.31 149.43,613.76 150.29,618.17 151.14,622.55 152,626.89 152.86,631.18 153.71,635.43 154.57,639.62 155.43,643.75 156.28,647.83 157.14,651.84 158,655.8 158.85,659.68 159.71,663.5 160.57,667.26 161.42,670.94 162.28,674.55 163.14,678.1 163.99,681.57 164.85,684.97 165.71,688.29 166.56,691.55 167.42,694.74 168.28,697.85 169.13,700.89 169.99,703.86 170.85,706.77 171.7,709.6 172.56,712.37 173.42,715.06 174.27,717.69 175.13,720.26 175.99,722.76 176.85,725.19 177.7,727.57 178.56,729.88 179.42,732.13 180.27,734.32 181.13,736.45 181.99,738.53 182.84,740.55 183.7,742.51 184.56,744.42 185.41,746.28 186.27,748.09 187.13,749.84 187.98,751.55 188.84,753.21 189.7,754.82 190.55,756.38 191.41,757.9 192.27,759.38 193.12,760.81 193.98,762.21 194.84,763.56 195.69,764.87 196.55,766.15 197.41,767.38 198.26,768.58 199.12,769.75 199.98,770.88 200.83,771.98 201.69,773.04 202.55,774.07 203.4,775.07 204.26,776.05 205.12,776.99 205.97,777.9 206.83,778.79 207.69,779.65 208.54,780.48 209.4,781.29 210.26,782.07 211.12,782.83 211.97,783.56 212.83,784.28 213.69,784.97 214.54,785.64 215.4,786.29 216.26,786.92 217.11,787.53 217.97,788.12 218.83,788.69 219.68,789.24 220.54,789.78 221.4,790.3 222.25,790.81 223.11,791.29 223.97,791.77 224.82,792.23 225.68,792.67 226.54,793.1 227.39,793.52 228.25,793.92 229.11,794.31 229.96,794.69 230.82,795.06 231.68,795.41 232.53,795.76 233.39,796.09 234.25,796.41 235.1,796.72 235.96,797.02 236.82,797.32 237.67,797.6 238.53,797.88 239.39,798.14 240.24,798.4 241.1,798.65 241.96,798.89 242.81,799.12 243.67,799.35 244.53,799.57 245.39,799.78 246.24,799.98 247.1,800.18 247.96,800.37 248.81,800.56 249.67,800.74 250.53,800.91 251.38,801.08 252.24,801.24 253.1,801.4 253.95,801.55 254.81,801.7 255.67,801.84 256.52,801.98 257.38,802.12 258.24,802.25 259.09,802.37 259.95,802.49 260.81,802.61 261.66,802.72 262.52,802.83 263.38,802.94 264.23,803.04 265.09,803.14 265.95,803.24 266.8,803.33 267.66,803.42 268.52,803.51 269.37,803.6 270.23,803.68 271.09,803.76 271.94,803.83 272.8,803.91 273.66,803.98 274.51,804.05 275.37,804.12 276.23,804.18 277.08,804.24 277.94,804.3 278.8,804.36 279.66,804.42 280.51,804.47 281.37,804.53 282.23,804.58 283.08,804.63 283.94,804.68 284.8,804.72 285.65,804.77 286.51,804.81 287.37,804.85 288.22,804.9 289.08,804.94 289.94,804.97 290.79,805.01 291.65,805.05 292.51,805.08 293.36,805.11 294.22,805.15 295.08,805.18 295.93,805.21 296.79,805.24 297.65,805.27 298.5,805.29 299.36,805.32 300.22,805.35 301.07,805.37 301.93,805.39 302.79,805.42 303.64,805.44 304.5,805.46 305.36,805.48 306.21,805.5 307.07,805.52 307.93,805.54 308.78,805.56 309.64,805.58 310.5,805.59 311.35,805.61 312.21,805.63 313.07,805.64 313.93,805.66 314.78,805.67 315.64,805.69 316.5,805.7 317.35,805.71 318.21,805.73 319.07,805.74 319.92,805.75 320.78,805.76 321.64,805.77 322.49,805.78 323.35,805.79 324.21,805.8 325.06,805.81 325.92,805.82 326.78,805.83 327.63,805.84 328.49,805.85 329.35,805.86 330.2,805.87 331.06,805.87 331.92,805.88 332.77,805.89 333.63,805.9 334.49,805.9 335.34,805.91 336.2,805.92 337.06,805.92 337.91,805.93 338.77,805.93 339.63,805.94 340.48,805.94 341.34,805.95 342.2,805.95 343.05,805.96 343.91,805.96 344.77,805.97 345.62,805.97 346.48,805.98 347.34,805.98 348.19,805.98 349.05,805.99 349.91,805.99 350.77,806 351.62,806 352.48,806 353.34,806.01 354.19,806.01 355.05,806.01 355.91,806.01 356.76,806.02 357.62,806.02 358.48,806.02 359.33,806.03 360.19,806.03 361.05,806.03 361.9,806.03 362.76,806.03 363.62,806.04 364.47,806.04 365.33,806.04 366.19,806.04 367.04,806.04 367.9,806.05 368.76,806.05 369.61,806.05 370.47,806.05 371.33,806.05 372.18,806.05 373.04,806.06 373.9,806.06 374.75,806.06 375.61,806.06 376.47,806.06 377.32,806.06 378.18,806.06 379.04,806.07 379.89,806.07 380.75,806.07 381.61,806.07 382.47,806.07 383.32,806.07 384.18,806.07 385.04,806.07 385.89,806.07 386.75,806.07 387.61,806.08 388.46,806.08 389.32,806.08 390.18,806.08 391.03,806.08 391.89,806.08 392.75,806.08 393.6,806.08 394.46,806.08 395.32,806.08 396.17,806.08 397.03,806.08 397.89,806.08 398.74,806.08 399.6,806.08" fill="none" stroke="#0a8a0a" stroke-width="0.9"/>
<polyline points="82.6,799.44 83.46,798.12 84.32,796.59 85.17,794.82 86.03,792.77 86.89,790.42 87.74,787.73 88.6,784.68 89.46,781.22 90.31,777.33 91.17,772.98 92.03,768.13 92.88,762.76 93.74,756.84 94.6,750.35 95.45,743.28 96.31,735.62 97.17,727.37 98.02,718.53 98.88,709.13 99.74,699.18 100.59,688.72 101.45,677.79 102.31,666.46 103.16,654.8 104.02,642.87 104.88,630.78 105.73,618.61 106.59,606.48 107.45,594.5 108.31,582.77 109.16,571.44 110.02,560.59 110.88,550.36 111.73,540.85 112.59,532.14 113.45,524.32 114.3,517.45 115.16,511.56 116.02,506.65 116.87,502.71 117.73,499.68 118.59,497.47 119.44,495.98 120.3,495.05 121.16,494.55 122.01,494.33 122.87,495.16 123.73,497.33 124.58,499.56 125.44,501.87 126.3,504.27 127.15,506.79 128.01,509.43 128.87,512.2 129.72,515.11 130.58,518.15 131.44,521.34 132.29,524.66 133.15,528.12 134.01,531.7 134.86,535.4 135.72,539.22 136.58,543.15 137.43,547.18 138.29,551.29 139.15,555.49 140,559.75 140.86,564.08 141.72,568.46 142.58,572.88 143.43,577.34 144.29,581.82 145.15,586.32 146,590.83 146.86,595.34 147.72,599.84 148.57,604.33 149.43,608.8 150.29,613.24 151.14,617.65 152,622.03 152.86,626.36 153.71,630.65 154.57,634.9 155.43,639.08 156.28,643.22 157.14,647.29 158,651.3 158.85,655.25 159.71,659.13 160.57,662.95 161.42,666.7 162.28,670.38 163.14,673.99 163.99,677.52 164.85,680.99 165.71,684.38 166.56,687.71 167.42,690.96 168.28,694.14 169.13,697.24 169.99,700.28 170.85,703.25 171.7,706.14 172.56,708.97 173.42,711.73 174.27,714.42 175.13,717.04 175.99,719.6 176.85,722.1 177.7,724.52 178.56,726.89 179.42,729.2 180.27,731.44 181.13,733.63 181.99,735.76 182.84,737.83 183.7,739.84 184.56,741.8 185.41,743.71 186.27,745.57 187.13,747.37 187.98,749.12 188.84,750.83 189.7,752.49 190.55,754.1 191.41,755.67 192.27,757.19 193.12,758.67 193.98,760.1 194.84,761.5 195.69,762.86 196.55,764.17 197.41,765.45 198.26,766.69 199.12,767.9 199.98,769.07 200.83,770.21 201.69,771.31 202.55,772.38 203.4,773.42 204.26,774.43 205.12,775.41 205.97,776.36 206.83,777.29 207.69,778.18 208.54,779.05 209.4,779.89 210.26,780.71 211.12,781.5 211.97,782.27 212.83,783.01 213.69,783.74 214.54,784.44 215.4,785.12 216.26,785.78 217.11,786.42 217.97,787.04 218.83,787.64 219.68,788.22 220.54,788.78 221.4,789.33 222.25,789.86 223.11,790.37 223.97,790.87 224.82,791.35 225.68,791.82 226.54,792.27 227.39,792.71 228.25,793.14 229.11,793.55 229.96,793.95 230.82,794.34 231.68,794.71 232.53,795.08 233.39,795.43 234.25,795.77 235.1,796.1 235.96,796.42 236.82,796.73 237.67,797.03 238.53,797.32 239.39,797.6 240.24,797.87 241.1,798.13 241.96,798.39 242.81,798.64 243.67,798.88 244.53,799.11 245.39,799.33 246.24,799.55 247.1,799.76 247.96,799.97 248.81,800.16 249.67,800.35 250.53,800.54 251.38,800.72 252.24,800.89 253.1,801.06 253.95,801.22 254.81,801.38 255.67,801.53 256.52,801.68 257.38,801.82 258.24,801.96 259.09,802.09 259.95,802.22 260.81,802.35 261.66,802.47 262.52,802.59 263.38,802.7 264.23,802.81 265.09,802.92 265.95,803.02 266.8,803.12 267.66,803.22 268.52,803.31 269.37,803.4 270.23,803.49 271.09,803.57 271.94,803.66 272.8,803.73 273.66,803.81 274.51,803.89 275.37,803.96 276.23,804.03 277.08,804.09 277.94,804.16 278.8,804.22 279.66,804.28 280.51,804.34 281.37,804.4 282.23,804.46 283.08,804.51 283.94,804.56 284.8,804.61 285.65,804.66 286.51,804.71 287.37,804.75 288.22,804.8 289.08,804.84 289.94,804.88 290.79,804.92 291.65,804.96 292.51,804.99 293.36,805.03 294.22,805.07 295.08,805.1 295.93,805.13 296.79,805.16 297.65,805.19 298.5,805.22 299.36,805.25 300.22,805.28 301.07,805.31 301.93,805.33 302.79,805.36 303.64,805.38 304.5,805.41 305.36,805.43 306.21,805.45 307.07,805.47 307.93,805.49 308.78,805.51 309.64,805.53 310.5,805.55 311.35,805.57 312.21,805.58 313.07,805.6 313.93,805.62 314.78,805.63 315.64,805.65 316.5,805.66 317.35,805.68 318.21,805.69 319.07,805.71 319.92,805.72 320.78,805.73 321.64,805.74 322.49,805.75 323.35,805.77 324.21,805.78 325.06,805.79 325.92,805.8 326.78,805.81 327.63,805.82 328.49,805.83 329.35,805.84 330.2,805.84 331.06,805.85 331.92,805.86 332.77,805.87 333.63,805.88 334.49,805.88 335.34,805.89 336.2,805.9 337.06,805.9 337.91,805.91 338.77,805.92 339.63,805.92 340.48,805.93 341.34,805.93 342.2,805.94 343.05,805.94 343.91,805.95 344.77,805.95 345.62,805.96 346.48,805.96 347.34,805.97 348.19,805.97 349.05,805.98 349.91,805.98 350.77,805.98 351.62,805.99 352.48,805.99 353.34,806 354.19,806 355.05,806 355.91,806.01 356.76,806.01 357.62,806.01 358.48,806.01 359.33,806.02 360.19,806.02 361.05,806.02 361.9,806.03 362.76,806.03 363.62,806.03 364.47,806.03 365.33,806.03 366.19,806.04 367.04,806.04 367.9,806.04 368.76,806.04 369.61,806.04 370.47,806.05 371.33,806.05 372.18,806.05 373.04,806.05 373.9,806.05 374.75,806.05 375.61,806.06 376.47,806.06 377.32,806.06 378.18,806.06 379.04,806.06 379.89,806.06 380.75,806.06 381.61,806.07 382.47,806.07 383.32,806.07 384.18,806.07 385.04,806.07 385.89,806.07 386.75,806.07 387.61,806.07 388.46,806.07 389.32,806.07 390.18,806.08 391.03,806.08 391.89,806.08 392.75,806.08 393.6,806.08 394.46,806.08 395.32,806.08 396.17,806.08 397.03,806.08 397.89,806.08 398.74,806.08 399.6,806.08" fill="none" stroke="#ff8a20" stroke-width="0.9"/>
<polyline points="82.6,797.23 83.46,795.56 84.32,793.62 85.17,791.4 86.03,788.85 86.89,785.94 87.74,782.65 88.6,778.93 89.46,774.76 90.31,770.11 91.17,764.94 92.03,759.24 92.88,752.97 93.74,746.12 94.6,738.68 95.45,730.64 96.31,722 97.17,712.78 98.02,702.99 98.88,692.67 99.74,681.84 100.59,670.57 101.45,658.9 102.31,646.92 103.16,634.71 104.02,622.34 104.88,609.93 105.73,597.59 106.59,585.41 107.45,573.53 108.31,562.06 109.16,551.12 110.02,540.84 110.88,531.34 111.73,522.73 112.59,515.12 113.45,508.62 114.3,503.31 115.16,499.27 116.02,496.51 116.87,494.96 117.73,494.35 118.59,495.59 119.44,497.77 120.3,500.01 121.16,502.34 122.01,504.77 122.87,507.31 123.73,509.98 124.58,512.78 125.44,515.71 126.3,518.79 127.15,522.01 128.01,525.36 128.87,528.84 129.72,532.45 130.58,536.19 131.44,540.03 132.29,543.99 133.15,548.04 134.01,552.18 134.86,556.4 135.72,560.69 136.58,565.04 137.43,569.44 138.29,573.88 139.15,578.35 140,582.85 140.86,587.37 141.72,591.89 142.58,596.42 143.43,600.94 144.29,605.44 145.15,609.93 146,614.39 146.86,618.81 147.72,623.21 148.57,627.56 149.43,631.87 150.29,636.13 151.14,640.33 152,644.48 152.86,648.58 153.71,652.61 154.57,656.58 155.43,660.49 156.28,664.33 157.14,668.1 158,671.8 158.85,675.44 159.71,679 160.57,682.5 161.42,685.92 162.28,689.28 163.14,692.56 163.99,695.77 164.85,698.91 165.71,701.98 166.56,704.98 167.42,707.91 168.28,710.77 169.13,713.56 169.99,716.28 170.85,718.94 171.7,721.53 172.56,724.05 173.42,726.51 174.27,728.91 175.13,731.25 175.99,733.52 176.85,735.73 177.7,737.89 178.56,739.98 179.42,742.02 180.27,744 181.13,745.92 181.99,747.79 182.84,749.61 183.7,751.38 184.56,753.09 185.41,754.76 186.27,756.37 187.13,757.94 187.98,759.46 188.84,760.94 189.7,762.37 190.55,763.76 191.41,765.11 192.27,766.42 193.12,767.69 193.98,768.91 194.84,770.1 195.69,771.26 196.55,772.38 197.41,773.46 198.26,774.51 199.12,775.53 199.98,776.51 200.83,777.47 201.69,778.39 202.55,779.29 203.4,780.15 204.26,780.99 205.12,781.8 205.97,782.59 206.83,783.35 207.69,784.09 208.54,784.81 209.4,785.5 210.26,786.17 211.12,786.82 211.97,787.44 212.83,788.05 213.69,788.64 214.54,789.21 215.4,789.76 216.26,790.29 217.11,790.81 217.97,791.31 218.83,791.79 219.68,792.26 220.54,792.71 221.4,793.15 222.25,793.57 223.11,793.98 223.97,794.38 224.82,794.76 225.68,795.13 226.54,795.49 227.39,795.84 228.25,796.18 229.11,796.5 229.96,796.82 230.82,797.12 231.68,797.42 232.53,797.7 233.39,797.98 234.25,798.25 235.1,798.51 235.96,798.76 236.82,799 237.67,799.23 238.53,799.46 239.39,799.68 240.24,799.89 241.1,800.09 241.96,800.29 242.81,800.48 243.67,800.67 244.53,800.85 245.39,801.02 246.24,801.19 247.1,801.35 247.96,801.51 248.81,801.66 249.67,801.81 250.53,801.95 251.38,802.09 252.24,802.22 253.1,802.35 253.95,802.47 254.81,802.59 255.67,802.71 256.52,802.82 257.38,802.93 258.24,803.04 259.09,803.14 259.95,803.24 260.81,803.33 261.66,803.42 262.52,803.51 263.38,803.6 264.23,803.68 265.09,803.76 265.95,803.84 266.8,803.91 267.66,803.99 268.52,804.06 269.37,804.12 270.23,804.19 271.09,804.25 271.94,804.32 272.8,804.37 273.66,804.43 274.51,804.49 275.37,804.54 276.23,804.59 277.08,804.64 277.94,804.69 278.8,804.74 279.66,804.78 280.51,804.83 281.37,804.87 282.23,804.91 283.08,804.95 283.94,804.99 284.8,805.03 285.65,805.06 286.51,805.1 287.37,805.13 288.22,805.16 289.08,805.19 289.94,805.22 290.79,805.25 291.65,805.28 292.51,805.31 293.36,805.34 294.22,805.36 295.08,805.39 295.93,805.41 296.79,805.43 297.65,805.46 298.5,805.48 299.36,805.5 300.22,805.52 301.07,805.54 301.93,805.56 302.79,805.57 303.64,805.59 304.5,805.61 305.36,805.63 306.21,805.64 307.07,805.66 307.93,805.67 308.78,805.69 309.64,805.7 310.5,805.71 311.35,805.73 312.21,805.74 313.07,805.75 313.93,805.76 314.78,805.77 315.64,805.78 316.5,805.8 317.35,805.81 318.21,805.82 319.07,805.82 319.92,805.83 320.78,805.84 321.64,805.85 322.49,805.86 323.35,805.87 324.21,805.88 325.06,805.88 325.92,805.89 326.78,805.9 327.63,805.9 328.49,805.91 329.35,805.92 330.2,805.92 331.06,805.93 331.92,805.94 332.77,805.94 333.63,805.95 334.49,805.95 335.34,805.96 336.2,805.96 337.06,805.97 337.91,805.97 338.77,805.97 339.63,805.98 340.48,805.98 341.34,805.99 342.2,805.99 343.05,805.99 343.91,806 344.77,806 345.62,806 346.48,806.01 347.34,806.01 348.19,806.01 349.05,806.02 349.91,806.02 350.77,806.02 351.62,806.02 352.48,806.03 353.34,806.03 354.19,806.03 355.05,806.03 355.91,806.04 356.76,806.04 357.62,806.04 358.48,806.04 359.33,806.04 360.19,806.05 361.05,806.05 361.9,806.05 362.76,806.05 363.62,806.05 364.47,806.06 365.33,806.06 366.19,806.06 367.04,806.06 367.9,806.06 368.76,806.06 369.61,806.06 370.47,806.06 371.33,806.07 372.18,806.07 373.04,806.07 373.9,806.07 374.75,806.07 375.61,806.07 376.47,806.07 377.32,806.07 378.18,806.07 379.04,806.07 379.89,806.08 380.75,806.08 381.61,806.08 382.47,806.08 383.32,806.08 384.18,806.08 385.04,806.08 385.89,806.08 386.75,806.08 387.61,806.08 388.46,806.08 389.32,806.08 390.18,806.08 391.03,806.08 391.89,806.08 392.75,806.09 393.6,806.09 394.46,806.09 395.32,806.09 396.17,806.09 397.03,806.09 397.89,806.09 398.74,806.09 399.6,806.09" fill="none" stroke="#8a2aff" stroke-width="0.9"/>
</g>
<rect x="56.9" y="463.5" width="342.7" height="342.6" fill="none" stroke="#5c5c5c" stroke-width="1.3"/>
<path d="M56.9 806.1v5.4M74.03 806.1v2.8M91.17 806.1v2.8M108.31 806.1v2.8M125.44 806.1v2.8M142.58 806.1v5.4M159.71 806.1v2.8M176.85 806.1v2.8M193.98 806.1v2.8M211.12 806.1v2.8M228.25 806.1v5.4M245.39 806.1v2.8M262.52 806.1v2.8M279.66 806.1v2.8M296.79 806.1v2.8M313.93 806.1v5.4M331.06 806.1v2.8M348.19 806.1v2.8M365.33 806.1v2.8M382.47 806.1v2.8M399.6 806.1v5.4" stroke="#444" stroke-width="1.1" fill="none"/>
<g font-size="17.2" text-anchor="middle">
<text x="56.9" y="829.1">350</text>
<text x="142.58" y="829.1">450</text>
<text x="228.25" y="829.1">550</text>
<text x="313.93" y="829.1">650</text>
<text x="399.6" y="829.1">750</text>
</g>
<text x="225.4" y="856.2" font-size="18.8" text-anchor="middle" font-weight="bold">Wavelength (nm)</text>
<text transform="translate(33.4 646.7) rotate(-90)" text-anchor="middle" font-size="18.8" font-weight="bold">EL intensity (au)</text>
<g font-size="14.4">
<path d="M290 476.5H323" stroke="#1a1a1a" stroke-width="0.9"/>
<text x="327.3" y="481.7">Device B1</text>
<path d="M290 494.47H323" stroke="#ff2020" stroke-width="0.9"/>
<text x="327.3" y="499.67">Device B2</text>
<path d="M290 512.44H323" stroke="#2020ff" stroke-width="0.9"/>
<text x="327.3" y="517.64">Device B3</text>
<path d="M290 530.41H323" stroke="#ff20ff" stroke-width="0.9"/>
<text x="327.3" y="535.61">Device B4</text>
<path d="M290 548.38H323" stroke="#0a8a0a" stroke-width="0.9"/>
<text x="327.3" y="553.58">Device B5</text>
<path d="M290 566.35H323" stroke="#ff8a20" stroke-width="0.9"/>
<text x="327.3" y="571.55">Device B6</text>
<path d="M290 584.32H323" stroke="#8a2aff" stroke-width="0.9"/>
<text x="327.3" y="589.52">Device B7</text>
</g>
<rect x="75.5" y="481.5" width="27.7" height="27" fill="#000"/><rect x="71.3" y="477.3" width="27.7" height="27" fill="#fff" stroke="#888" stroke-width="0.8"/><text x="85.65" y="497.5" font-size="16" text-anchor="middle" font-weight="bold">C</text>
<!-- panel D -->
<g clip-path="url(#cD)">
<polyline points="512.58,569.59 543.26,573.78 567.14,577.03 586.09,579.65 602.36,581.83 615.81,583.58 627.89,585.1 638.32,586.51 647.59,587.95 655.96,589.45 663.24,590.89 669.83,592.12 676.42,593.04 681.77,593.8 687.02,594.44 691.86,595.02 696.04,595.56 699.85,596.12 703.39,596.72 706.79,597.41 710.05,598.18 713.16,598.99 716.1,599.85 718.84,600.74 721.44,601.67 723.93,602.62 726.28,603.6 728.44,604.6 730.37,605.63 732.09,606.72 733.66,607.85 735.11,609.02 736.47,610.2 737.78,611.38 739.12,612.57 740.47,613.72 741.73,614.79 742.79,615.83 743.55,616.94 744.11,618.22 744.6,619.75 744.96,621.89 745.13,624.54" fill="none" stroke="#1a1a1a" stroke-width="0.7"/>
<g fill="url(#s0)"><circle cx="512.58" cy="569.59" r="3.45"/><circle cx="543.26" cy="573.78" r="3.45"/><circle cx="567.14" cy="577.03" r="3.45"/><circle cx="586.09" cy="579.65" r="3.45"/><circle cx="602.36" cy="581.83" r="3.45"/><circle cx="615.81" cy="583.58" r="3.45"/><circle cx="627.89" cy="585.1" r="3.45"/><circle cx="638.32" cy="586.51" r="3.45"/><circle cx="647.59" cy="587.95" r="3.45"/><circle cx="655.96" cy="589.45" r="3.45"/><circle cx="663.24" cy="590.89" r="3.45"/><circle cx="669.83" cy="592.12" r="3.45"/><circle cx="676.42" cy="593.04" r="3.45"/><circle cx="681.77" cy="593.8" r="3.45"/><circle cx="687.02" cy="594.44" r="3.45"/><circle cx="691.86" cy="595.02" r="3.45"/><circle cx="696.04" cy="595.56" r="3.45"/><circle cx="699.85" cy="596.12" r="3.45"/><circle cx="703.39" cy="596.72" r="3.45"/><circle cx="706.79" cy="597.41" r="3.45"/><circle cx="710.05" cy="598.18" r="3.45"/><circle cx="713.16" cy="598.99" r="3.45"/><circle cx="716.1" cy="599.85" r="3.45"/><circle cx="718.84" cy="600.74" r="3.45"/><circle cx="721.44" cy="601.67" r="3.45"/><circle cx="723.93" cy="602.62" r="3.45"/><circle cx="726.28" cy="603.6" r="3.45"/><circle cx="728.44" cy="604.6" r="3.45"/><circle cx="730.37" cy="605.63" r="3.45"/><circle cx="732.09" cy="606.72" r="3.45"/><circle cx="733.66" cy="607.85" r="3.45"/><circle cx="735.11" cy="609.02" r="3.45"/><circle cx="736.47" cy="610.2" r="3.45"/><circle cx="737.78" cy="611.38" r="3.45"/><circle cx="739.12" cy="612.57" r="3.45"/><circle cx="740.47" cy="613.72" r="3.45"/><circle cx="741.73" cy="614.79" r="3.45"/><circle cx="742.79" cy="615.83" r="3.45"/><circle cx="743.55" cy="616.94" r="3.45"/><circle cx="744.11" cy="618.22" r="3.45"/><circle cx="744.6" cy="619.75" r="3.45"/><circle cx="744.96" cy="621.89" r="3.45"/><circle cx="745.13" cy="624.54" r="3.45"/></g>
<polyline points="535.78,575.92 568.93,578.49 593.78,579.85 613.48,580.87 629.06,581.7 642.51,582.5 654.11,583.39 664.96,584.23 673.81,585.06 681.22,585.91 688.16,586.84 694.54,587.87 700.1,588.95 705.59,590.05 710.26,591.13 714.56,592.14 718.63,593.06 722.66,593.93 726.55,594.75 729.96,595.54 732.86,596.3 735.5,597.06 737.94,597.8 740.23,598.56 742.45,599.32 744.61,600.11 746.67,600.92 748.64,601.78 750.5,602.68 752.27,603.62 753.99,604.57 755.7,605.52 757.3,606.44 758.7,607.34 759.82,608.18 760.74,609 761.61,609.81 762.38,610.59 763.04,611.35 763.54,612.09 763.87,612.81" fill="none" stroke="#ff2020" stroke-width="0.7"/>
<g fill="url(#s1)"><circle cx="535.78" cy="575.92" r="3.45"/><circle cx="568.93" cy="578.49" r="3.45"/><circle cx="593.78" cy="579.85" r="3.45"/><circle cx="613.48" cy="580.87" r="3.45"/><circle cx="629.06" cy="581.7" r="3.45"/><circle cx="642.51" cy="582.5" r="3.45"/><circle cx="654.11" cy="583.39" r="3.45"/><circle cx="664.96" cy="584.23" r="3.45"/><circle cx="673.81" cy="585.06" r="3.45"/><circle cx="681.22" cy="585.91" r="3.45"/><circle cx="688.16" cy="586.84" r="3.45"/><circle cx="694.54" cy="587.87" r="3.45"/><circle cx="700.1" cy="588.95" r="3.45"/><circle cx="705.59" cy="590.05" r="3.45"/><circle cx="710.26" cy="591.13" r="3.45"/><circle cx="714.56" cy="592.14" r="3.45"/><circle cx="718.63" cy="593.06" r="3.45"/><circle cx="722.66" cy="593.93" r="3.45"/><circle cx="726.55" cy="594.75" r="3.45"/><circle cx="729.96" cy="595.54" r="3.45"/><circle cx="732.86" cy="596.3" r="3.45"/><circle cx="735.5" cy="597.06" r="3.45"/><circle cx="737.94" cy="597.8" r="3.45"/><circle cx="740.23" cy="598.56" r="3.45"/><circle cx="742.45" cy="599.32" r="3.45"/><circle cx="744.61" cy="600.11" r="3.45"/><circle cx="746.67" cy="600.92" r="3.45"/><circle cx="748.64" cy="601.78" r="3.45"/><circle cx="750.5" cy="602.68" r="3.45"/><circle cx="752.27" cy="603.62" r="3.45"/><circle cx="753.99" cy="604.57" r="3.45"/><circle cx="755.7" cy="605.52" r="3.45"/><circle cx="757.3" cy="606.44" r="3.45"/><circle cx="758.7" cy="607.34" r="3.45"/><circle cx="759.82" cy="608.18" r="3.45"/><circle cx="760.74" cy="609" r="3.45"/><circle cx="761.61" cy="609.81" r="3.45"/><circle cx="762.38" cy="610.59" r="3.45"/><circle cx="763.04" cy="611.35" r="3.45"/><circle cx="763.54" cy="612.09" r="3.45"/><circle cx="763.87" cy="612.81" r="3.45"/></g>
<polyline points="525.82,578.49 565.08,580.71 594.6,581.08 618.14,581.3 634.82,581.44 648.83,581.56 659.81,581.72 670.35,581.96 679.71,582.23 686.94,582.52 693.44,582.84 700.23,583.19 706.48,583.57 711.56,583.97 716.3,584.42 721.24,584.9 725.19,585.46 728.73,586.1 731.99,586.8 735.12,587.56 738.26,588.38 741.49,589.23 744.7,590.13 747.81,591.05 750.7,592 753.3,592.96 755.61,593.93 757.77,594.9 759.76,595.87 761.61,596.86 763.32,597.92 764.95,599.03 766.53,600.16 767.98,601.29 769.24,602.41 770.25,603.48 771.09,604.53 771.87,605.56 772.57,606.58 773.16,607.58 773.61,608.58 773.89,609.56" fill="none" stroke="#2020ff" stroke-width="0.7"/>
<g fill="url(#s2)"><circle cx="525.82" cy="578.49" r="3.45"/><circle cx="565.08" cy="580.71" r="3.45"/><circle cx="594.6" cy="581.08" r="3.45"/><circle cx="618.14" cy="581.3" r="3.45"/><circle cx="634.82" cy="581.44" r="3.45"/><circle cx="648.83" cy="581.56" r="3.45"/><circle cx="659.81" cy="581.72" r="3.45"/><circle cx="670.35" cy="581.96" r="3.45"/><circle cx="679.71" cy="582.23" r="3.45"/><circle cx="686.94" cy="582.52" r="3.45"/><circle cx="693.44" cy="582.84" r="3.45"/><circle cx="700.23" cy="583.19" r="3.45"/><circle cx="706.48" cy="583.57" r="3.45"/><circle cx="711.56" cy="583.97" r="3.45"/><circle cx="716.3" cy="584.42" r="3.45"/><circle cx="721.24" cy="584.9" r="3.45"/><circle cx="725.19" cy="585.46" r="3.45"/><circle cx="728.73" cy="586.1" r="3.45"/><circle cx="731.99" cy="586.8" r="3.45"/><circle cx="735.12" cy="587.56" r="3.45"/><circle cx="738.26" cy="588.38" r="3.45"/><circle cx="741.49" cy="589.23" r="3.45"/><circle cx="744.7" cy="590.13" r="3.45"/><circle cx="747.81" cy="591.05" r="3.45"/><circle cx="750.7" cy="592" r="3.45"/><circle cx="753.3" cy="592.96" r="3.45"/><circle cx="755.61" cy="593.93" r="3.45"/><circle cx="757.77" cy="594.9" r="3.45"/><circle cx="759.76" cy="595.87" r="3.45"/><circle cx="761.61" cy="596.86" r="3.45"/><circle cx="763.32" cy="597.92" r="3.45"/><circle cx="764.95" cy="599.03" r="3.45"/><circle cx="766.53" cy="600.16" r="3.45"/><circle cx="767.98" cy="601.29" r="3.45"/><circle cx="769.24" cy="602.41" r="3.45"/><circle cx="770.25" cy="603.48" r="3.45"/><circle cx="771.09" cy="604.53" r="3.45"/><circle cx="771.87" cy="605.56" r="3.45"/><circle cx="772.57" cy="606.58" r="3.45"/><circle cx="773.16" cy="607.58" r="3.45"/><circle cx="773.61" cy="608.58" r="3.45"/><circle cx="773.89" cy="609.56" r="3.45"/></g>
<polyline points="557.12,578.49 585.2,580.29 607.71,580.84 626.72,581.21 643.68,581.47 657.06,581.69 668.58,581.94 678.96,582.24 688.16,582.54 696.32,582.83 703.29,583.11 709.64,583.4 715.64,583.72 721.24,584.06 726.39,584.44 730.6,584.88 734.43,585.39 737.97,585.98 741.32,586.62 744.58,587.32 747.81,588.07 750.96,588.86 753.96,589.68 756.73,590.52 759.2,591.38 761.43,592.25 763.51,593.12 765.42,593.99 767.13,594.84 768.6,595.7 769.91,596.61 771.14,597.54 772.22,598.5 773.13,599.45 773.82,600.41 774.37,601.34 774.87,602.27 775.29,603.19 775.6,604.11 775.74,605.02" fill="none" stroke="#ff20ff" stroke-width="0.7"/>
<g fill="url(#s3)"><circle cx="557.12" cy="578.49" r="3.45"/><circle cx="585.2" cy="580.29" r="3.45"/><circle cx="607.71" cy="580.84" r="3.45"/><circle cx="626.72" cy="581.21" r="3.45"/><circle cx="643.68" cy="581.47" r="3.45"/><circle cx="657.06" cy="581.69" r="3.45"/><circle cx="668.58" cy="581.94" r="3.45"/><circle cx="678.96" cy="582.24" r="3.45"/><circle cx="688.16" cy="582.54" r="3.45"/><circle cx="696.32" cy="582.83" r="3.45"/><circle cx="703.29" cy="583.11" r="3.45"/><circle cx="709.64" cy="583.4" r="3.45"/><circle cx="715.64" cy="583.72" r="3.45"/><circle cx="721.24" cy="584.06" r="3.45"/><circle cx="726.39" cy="584.44" r="3.45"/><circle cx="730.6" cy="584.88" r="3.45"/><circle cx="734.43" cy="585.39" r="3.45"/><circle cx="737.97" cy="585.98" r="3.45"/><circle cx="741.32" cy="586.62" r="3.45"/><circle cx="744.58" cy="587.32" r="3.45"/><circle cx="747.81" cy="588.07" r="3.45"/><circle cx="750.96" cy="588.86" r="3.45"/><circle cx="753.96" cy="589.68" r="3.45"/><circle cx="756.73" cy="590.52" r="3.45"/><circle cx="759.2" cy="591.38" r="3.45"/><circle cx="761.43" cy="592.25" r="3.45"/><circle cx="763.51" cy="593.12" r="3.45"/><circle cx="765.42" cy="593.99" r="3.45"/><circle cx="767.13" cy="594.84" r="3.45"/><circle cx="768.6" cy="595.7" r="3.45"/><circle cx="769.91" cy="596.61" r="3.45"/><circle cx="771.14" cy="597.54" r="3.45"/><circle cx="772.22" cy="598.5" r="3.45"/><circle cx="773.13" cy="599.45" r="3.45"/><circle cx="773.82" cy="600.41" r="3.45"/><circle cx="774.37" cy="601.34" r="3.45"/><circle cx="774.87" cy="602.27" r="3.45"/><circle cx="775.29" cy="603.19" r="3.45"/><circle cx="775.6" cy="604.11" r="3.45"/><circle cx="775.74" cy="605.02" r="3.45"/></g>
<polyline points="568.24,581.14 596.66,581.02 619.31,580.91 640.18,580.79 656.38,580.69 669.62,580.57 681.24,580.45 691.38,580.32 699.89,580.21 707.17,580.12 713.36,580.05 718.84,580.03 723.95,580.08 728.73,580.21 733.25,580.41 737.69,580.67 742.07,580.98 746.25,581.31 750.11,581.65 753.5,582.01 756.5,582.46 759.26,583 761.79,583.6 764.1,584.27 766.2,584.98 768.15,585.72 769.98,586.47 771.66,587.22 773.16,587.98 774.44,588.77 775.57,589.6 776.62,590.46 777.56,591.36 778.33,592.31 778.9,593.29 779.34,594.31 779.75,595.39 780.09,596.58 780.32,597.87 780.41,599.2" fill="none" stroke="#0a8a0a" stroke-width="0.7"/>
<g fill="url(#s4)"><circle cx="568.24" cy="581.14" r="3.45"/><circle cx="596.66" cy="581.02" r="3.45"/><circle cx="619.31" cy="580.91" r="3.45"/><circle cx="640.18" cy="580.79" r="3.45"/><circle cx="656.38" cy="580.69" r="3.45"/><circle cx="669.62" cy="580.57" r="3.45"/><circle cx="681.24" cy="580.45" r="3.45"/><circle cx="691.38" cy="580.32" r="3.45"/><circle cx="699.89" cy="580.21" r="3.45"/><circle cx="707.17" cy="580.12" r="3.45"/><circle cx="713.36" cy="580.05" r="3.45"/><circle cx="718.84" cy="580.03" r="3.45"/><circle cx="723.95" cy="580.08" r="3.45"/><circle cx="728.73" cy="580.21" r="3.45"/><circle cx="733.25" cy="580.41" r="3.45"/><circle cx="737.69" cy="580.67" r="3.45"/><circle cx="742.07" cy="580.98" r="3.45"/><circle cx="746.25" cy="581.31" r="3.45"/><circle cx="750.11" cy="581.65" r="3.45"/><circle cx="753.5" cy="582.01" r="3.45"/><circle cx="756.5" cy="582.46" r="3.45"/><circle cx="759.26" cy="583" r="3.45"/><circle cx="761.79" cy="583.6" r="3.45"/><circle cx="764.1" cy="584.27" r="3.45"/><circle cx="766.2" cy="584.98" r="3.45"/><circle cx="768.15" cy="585.72" r="3.45"/><circle cx="769.98" cy="586.47" r="3.45"/><circle cx="771.66" cy="587.22" r="3.45"/><circle cx="773.16" cy="587.98" r="3.45"/><circle cx="774.44" cy="588.77" r="3.45"/><circle cx="775.57" cy="589.6" r="3.45"/><circle cx="776.62" cy="590.46" r="3.45"/><circle cx="777.56" cy="591.36" r="3.45"/><circle cx="778.33" cy="592.31" r="3.45"/><circle cx="778.9" cy="593.29" r="3.45"/><circle cx="779.34" cy="594.31" r="3.45"/><circle cx="779.75" cy="595.39" r="3.45"/><circle cx="780.09" cy="596.58" r="3.45"/><circle cx="780.32" cy="597.87" r="3.45"/><circle cx="780.41" cy="599.2" r="3.45"/></g>
<polyline points="574.49,588.33 606.54,586.96 632.01,586.02 651.78,585.26 667.29,584.53 680.74,583.76 691.86,583.01 700.99,582.32 709.09,581.75 716.02,581.37 722.13,581.23 727.21,581.27 731.84,581.39 736.11,581.58 740.12,581.81 743.93,582.08 747.55,582.37 750.98,582.67 754.22,583.08 757.28,583.58 760.24,584.17 763.14,584.81 765.86,585.49 768.29,586.18 770.32,586.88 772.06,587.56 773.65,588.22 775.06,588.89 776.25,589.57 777.18,590.28 777.95,591.04 778.66,591.86 779.26,592.76 779.69,593.75 779.93,594.84 780.03,596.22 780.11,597.94 780.13,599.8" fill="none" stroke="#ff8a20" stroke-width="0.7"/>
<g fill="url(#s5)"><circle cx="574.49" cy="588.33" r="3.45"/><circle cx="606.54" cy="586.96" r="3.45"/><circle cx="632.01" cy="586.02" r="3.45"/><circle cx="651.78" cy="585.26" r="3.45"/><circle cx="667.29" cy="584.53" r="3.45"/><circle cx="680.74" cy="583.76" r="3.45"/><circle cx="691.86" cy="583.01" r="3.45"/><circle cx="700.99" cy="582.32" r="3.45"/><circle cx="709.09" cy="581.75" r="3.45"/><circle cx="716.02" cy="581.37" r="3.45"/><circle cx="722.13" cy="581.23" r="3.45"/><circle cx="727.21" cy="581.27" r="3.45"/><circle cx="731.84" cy="581.39" r="3.45"/><circle cx="736.11" cy="581.58" r="3.45"/><circle cx="740.12" cy="581.81" r="3.45"/><circle cx="743.93" cy="582.08" r="3.45"/><circle cx="747.55" cy="582.37" r="3.45"/><circle cx="750.98" cy="582.67" r="3.45"/><circle cx="754.22" cy="583.08" r="3.45"/><circle cx="757.28" cy="583.58" r="3.45"/><circle cx="760.24" cy="584.17" r="3.45"/><circle cx="763.14" cy="584.81" r="3.45"/><circle cx="765.86" cy="585.49" r="3.45"/><circle cx="768.29" cy="586.18" r="3.45"/><circle cx="770.32" cy="586.88" r="3.45"/><circle cx="772.06" cy="587.56" r="3.45"/><circle cx="773.65" cy="588.22" r="3.45"/><circle cx="775.06" cy="588.89" r="3.45"/><circle cx="776.25" cy="589.57" r="3.45"/><circle cx="777.18" cy="590.28" r="3.45"/><circle cx="777.95" cy="591.04" r="3.45"/><circle cx="778.66" cy="591.86" r="3.45"/><circle cx="779.26" cy="592.76" r="3.45"/><circle cx="779.69" cy="593.75" r="3.45"/><circle cx="779.93" cy="594.84" r="3.45"/><circle cx="780.03" cy="596.22" r="3.45"/><circle cx="780.11" cy="597.94" r="3.45"/><circle cx="780.13" cy="599.8" r="3.45"/></g>
<polyline points="561.79,593.47 596.11,591.16 622.06,589.19 643.2,587.9 659.4,587.22 672.16,586.7 683.97,586.25 693.72,585.86 701.82,585.49 709.09,585.1 715.75,584.78 720.97,584.65 725.17,584.71 728.92,584.87 732.57,585.13 736.29,585.46 740.01,585.84 743.63,586.28 747.06,586.74 750.21,587.22 753.23,587.82 756.2,588.62 758.96,589.58 761.32,590.63 763.11,591.74 764.45,592.84 765.6,593.89 766.57,594.84 767.41,595.71 768.12,596.56 768.73,597.4 769.26,598.22 769.72,599.03 770.16,599.82 770.59,600.59 771,601.34" fill="none" stroke="#8a2aff" stroke-width="0.7"/>
<g fill="url(#s6)"><circle cx="561.79" cy="593.47" r="3.45"/><circle cx="596.11" cy="591.16" r="3.45"/><circle cx="622.06" cy="589.19" r="3.45"/><circle cx="643.2" cy="587.9" r="3.45"/><circle cx="659.4" cy="587.22" r="3.45"/><circle cx="672.16" cy="586.7" r="3.45"/><circle cx="683.97" cy="586.25" r="3.45"/><circle cx="693.72" cy="585.86" r="3.45"/><circle cx="701.82" cy="585.49" r="3.45"/><circle cx="709.09" cy="585.1" r="3.45"/><circle cx="715.75" cy="584.78" r="3.45"/><circle cx="720.97" cy="584.65" r="3.45"/><circle cx="725.17" cy="584.71" r="3.45"/><circle cx="728.92" cy="584.87" r="3.45"/><circle cx="732.57" cy="585.13" r="3.45"/><circle cx="736.29" cy="585.46" r="3.45"/><circle cx="740.01" cy="585.84" r="3.45"/><circle cx="743.63" cy="586.28" r="3.45"/><circle cx="747.06" cy="586.74" r="3.45"/><circle cx="750.21" cy="587.22" r="3.45"/><circle cx="753.23" cy="587.82" r="3.45"/><circle cx="756.2" cy="588.62" r="3.45"/><circle cx="758.96" cy="589.58" r="3.45"/><circle cx="761.32" cy="590.63" r="3.45"/><circle cx="763.11" cy="591.74" r="3.45"/><circle cx="764.45" cy="592.84" r="3.45"/><circle cx="765.6" cy="593.89" r="3.45"/><circle cx="766.57" cy="594.84" r="3.45"/><circle cx="767.41" cy="595.71" r="3.45"/><circle cx="768.12" cy="596.56" r="3.45"/><circle cx="768.73" cy="597.4" r="3.45"/><circle cx="769.26" cy="598.22" r="3.45"/><circle cx="769.72" cy="599.03" r="3.45"/><circle cx="770.16" cy="599.82" r="3.45"/><circle cx="770.59" cy="600.59" r="3.45"/><circle cx="771" cy="601.34" r="3.45"/></g>
</g>
<rect x="508.5" y="463.5" width="343.5" height="342.6" fill="none" stroke="#5c5c5c" stroke-width="1.3"/>
<path d="M508.5 806.1v5.8M529.18 806.1v3.1M541.28 806.1v3.1M549.86 806.1v3.1M556.52 806.1v3.1M561.96 806.1v3.1M566.56 806.1v3.1M570.54 806.1v3.1M574.06 806.1v3.1M577.2 806.1v5.8M597.88 806.1v3.1M609.98 806.1v3.1M618.56 806.1v3.1M625.22 806.1v3.1M630.66 806.1v3.1M635.26 806.1v3.1M639.24 806.1v3.1M642.76 806.1v3.1M645.9 806.1v5.8M666.58 806.1v3.1M678.68 806.1v3.1M687.26 806.1v3.1M693.92 806.1v3.1M699.36 806.1v3.1M703.96 806.1v3.1M707.94 806.1v3.1M711.46 806.1v3.1M714.6 806.1v5.8M735.28 806.1v3.1M747.38 806.1v3.1M755.96 806.1v3.1M762.62 806.1v3.1M768.06 806.1v3.1M772.66 806.1v3.1M776.64 806.1v3.1M780.16 806.1v3.1M783.3 806.1v5.8M803.98 806.1v3.1M816.08 806.1v3.1M824.66 806.1v3.1M831.32 806.1v3.1M836.76 806.1v3.1M841.36 806.1v3.1M845.34 806.1v3.1M848.86 806.1v3.1M852 806.1v5.8" stroke="#444" stroke-width="1.1" fill="none"/><text x="509.3" y="831.2" text-anchor="middle" font-size="17.2">10<tspan font-size="10.2" dy="-8">0</tspan></text><text x="578" y="831.2" text-anchor="middle" font-size="17.2">10<tspan font-size="10.2" dy="-8">1</tspan></text><text x="646.7" y="831.2" text-anchor="middle" font-size="17.2">10<tspan font-size="10.2" dy="-8">2</tspan></text><text x="715.4" y="831.2" text-anchor="middle" font-size="17.2">10<tspan font-size="10.2" dy="-8">3</tspan></text><text x="784.1" y="831.2" text-anchor="middle" font-size="17.2">10<tspan font-size="10.2" dy="-8">4</tspan></text><text x="852.8" y="831.2" text-anchor="middle" font-size="17.2">10<tspan font-size="10.2" dy="-8">5</tspan></text>
<path d="M508.5 806.1h-5.6M508.5 780.32h-2.7M508.5 765.23h-2.7M508.5 754.53h-2.7M508.5 746.23h-2.7M508.5 739.45h-2.7M508.5 733.72h-2.7M508.5 728.75h-2.7M508.5 724.37h-2.7M508.5 720.45h-5.6M508.5 694.67h-2.7M508.5 679.58h-2.7M508.5 668.88h-2.7M508.5 660.58h-2.7M508.5 653.8h-2.7M508.5 648.07h-2.7M508.5 643.1h-2.7M508.5 638.72h-2.7M508.5 634.8h-5.6M508.5 609.02h-2.7M508.5 593.93h-2.7M508.5 583.23h-2.7M508.5 574.93h-2.7M508.5 568.15h-2.7M508.5 562.42h-2.7M508.5 557.45h-2.7M508.5 553.07h-2.7M508.5 549.15h-5.6M508.5 523.37h-2.7M508.5 508.28h-2.7M508.5 497.58h-2.7M508.5 489.28h-2.7M508.5 482.5h-2.7M508.5 476.77h-2.7M508.5 471.8h-2.7M508.5 467.42h-2.7M508.5 463.5h-5.6" stroke="#444" stroke-width="1.1" fill="none"/><g text-anchor="end"><text x="499.6" y="811.7"  font-size="17.2">10<tspan font-size="10.2" dy="-8">-2</tspan></text><text x="499.6" y="726.05"  font-size="17.2">10<tspan font-size="10.2" dy="-8">-1</tspan></text><text x="499.6" y="640.4"  font-size="17.2">10<tspan font-size="10.2" dy="-8">0</tspan></text><text x="499.6" y="554.75"  font-size="17.2">10<tspan font-size="10.2" dy="-8">1</tspan></text><text x="499.6" y="469.1"  font-size="17.2">10<tspan font-size="10.2" dy="-8">2</tspan></text></g>
<text x="685.6" y="854.3" text-anchor="middle" font-size="18.8" font-weight="bold">Luminance (cd m<tspan font-size="11.5" dy="-8">−2</tspan><tspan dy="8">)</tspan></text>
<text transform="translate(456.5 636.2) rotate(-90)" text-anchor="middle" font-size="18.8" font-weight="bold">External quantum efficiency (%)</text>
<g font-size="14.4"><path d="M742.5 682.2H775" stroke="#1a1a1a" stroke-width="0.6"/><circle cx="758.6" cy="682.2" r="3.05" fill="url(#s0)"/><text x="779" y="687.4">Device B1</text><path d="M742.5 700.17H775" stroke="#ff2020" stroke-width="0.6"/><circle cx="758.6" cy="700.17" r="3.05" fill="url(#s1)"/><text x="779" y="705.37">Device B2</text><path d="M742.5 718.14H775" stroke="#2020ff" stroke-width="0.6"/><circle cx="758.6" cy="718.14" r="3.05" fill="url(#s2)"/><text x="779" y="723.34">Device B3</text><path d="M742.5 736.11H775" stroke="#ff20ff" stroke-width="0.6"/><circle cx="758.6" cy="736.11" r="3.05" fill="url(#s3)"/><text x="779" y="741.31">Device B4</text><path d="M742.5 754.08H775" stroke="#0a8a0a" stroke-width="0.6"/><circle cx="758.6" cy="754.08" r="3.05" fill="url(#s4)"/><text x="779" y="759.28">Device B5</text><path d="M742.5 772.05H775" stroke="#ff8a20" stroke-width="0.6"/><circle cx="758.6" cy="772.05" r="3.05" fill="url(#s5)"/><text x="779" y="777.25">Device B6</text><path d="M742.5 790.02H775" stroke="#8a2aff" stroke-width="0.6"/><circle cx="758.6" cy="790.02" r="3.05" fill="url(#s6)"/><text x="779" y="795.22">Device B7</text></g>
<rect x="526.8" y="480.8" width="27.8" height="26.7" fill="#000"/><rect x="522.6" y="476.6" width="27.8" height="26.7" fill="#fff" stroke="#888" stroke-width="0.8"/><text x="537" y="496.8" font-size="16" text-anchor="middle" font-weight="bold">D</text>
<!-- panel E -->
<g clip-path="url(#cE)">
<polyline points="1010.04,801.73 1016.88,771.12 1023.73,747.29 1030.58,728.39 1037.43,712.16 1044.28,698.74 1051.12,686.69 1057.97,676.28 1064.82,667.03 1071.67,658.68 1078.52,651.42 1085.36,644.85 1092.21,638.27 1099.06,632.93 1105.91,627.7 1112.76,622.86 1119.6,618.7 1126.45,614.9 1133.3,611.36 1140.15,607.97 1147,604.72 1153.84,601.62 1160.69,598.69 1167.54,595.95 1174.39,593.36 1181.24,590.87 1188.08,588.53 1194.93,586.37 1201.78,584.45 1208.63,582.73 1215.48,581.17 1222.32,579.72 1229.17,578.36 1236.02,577.05 1242.87,575.72 1249.72,574.37 1256.56,573.12 1263.41,572.06 1270.26,571.3 1277.11,570.74 1283.96,570.25 1290.8,569.89 1297.65,569.72" fill="none" stroke="#1a1a1a" stroke-width="0.8"/>
<g fill="url(#s0)"><circle cx="1010.04" cy="801.73" r="3.05"/><circle cx="1016.88" cy="771.12" r="3.05"/><circle cx="1023.73" cy="747.29" r="3.05"/><circle cx="1030.58" cy="728.39" r="3.05"/><circle cx="1037.43" cy="712.16" r="3.05"/><circle cx="1044.28" cy="698.74" r="3.05"/><circle cx="1051.12" cy="686.69" r="3.05"/><circle cx="1057.97" cy="676.28" r="3.05"/><circle cx="1064.82" cy="667.03" r="3.05"/><circle cx="1071.67" cy="658.68" r="3.05"/><circle cx="1078.52" cy="651.42" r="3.05"/><circle cx="1085.36" cy="644.85" r="3.05"/><circle cx="1092.21" cy="638.27" r="3.05"/><circle cx="1099.06" cy="632.93" r="3.05"/><circle cx="1105.91" cy="627.7" r="3.05"/><circle cx="1112.76" cy="622.86" r="3.05"/><circle cx="1119.6" cy="618.7" r="3.05"/><circle cx="1126.45" cy="614.9" r="3.05"/><circle cx="1133.3" cy="611.36" r="3.05"/><circle cx="1140.15" cy="607.97" r="3.05"/><circle cx="1147" cy="604.72" r="3.05"/><circle cx="1153.84" cy="601.62" r="3.05"/><circle cx="1160.69" cy="598.69" r="3.05"/><circle cx="1167.54" cy="595.95" r="3.05"/><circle cx="1174.39" cy="593.36" r="3.05"/><circle cx="1181.24" cy="590.87" r="3.05"/><circle cx="1188.08" cy="588.53" r="3.05"/><circle cx="1194.93" cy="586.37" r="3.05"/><circle cx="1201.78" cy="584.45" r="3.05"/><circle cx="1208.63" cy="582.73" r="3.05"/><circle cx="1215.48" cy="581.17" r="3.05"/><circle cx="1222.32" cy="579.72" r="3.05"/><circle cx="1229.17" cy="578.36" r="3.05"/><circle cx="1236.02" cy="577.05" r="3.05"/><circle cx="1242.87" cy="575.72" r="3.05"/><circle cx="1249.72" cy="574.37" r="3.05"/><circle cx="1256.56" cy="573.12" r="3.05"/><circle cx="1263.41" cy="572.06" r="3.05"/><circle cx="1270.26" cy="571.3" r="3.05"/><circle cx="1277.11" cy="570.74" r="3.05"/><circle cx="1283.96" cy="570.25" r="3.05"/><circle cx="1290.8" cy="569.89" r="3.05"/><circle cx="1297.65" cy="569.72" r="3.05"/></g>
<polyline points="1003.19,778.59 1010.04,745.51 1016.88,720.72 1023.73,701.07 1030.58,685.52 1037.43,672.1 1044.28,660.53 1051.12,649.71 1057.97,640.87 1064.82,633.48 1071.67,626.56 1078.52,620.19 1085.36,614.65 1092.21,609.17 1099.06,604.51 1105.91,600.22 1112.76,596.16 1119.6,592.14 1126.45,588.26 1133.3,584.86 1140.15,581.96 1147,579.33 1153.84,576.9 1160.69,574.61 1167.54,572.39 1174.39,570.24 1181.24,568.19 1188.08,566.22 1194.93,564.36 1201.78,562.6 1208.63,560.88 1215.48,559.18 1222.32,557.58 1229.17,556.18 1236.02,555.07 1242.87,554.15 1249.72,553.28 1256.56,552.51 1263.41,551.85 1270.26,551.35 1277.11,551.03" fill="none" stroke="#ff2020" stroke-width="0.8"/>
<g fill="url(#s1)"><circle cx="1003.19" cy="778.59" r="3.05"/><circle cx="1010.04" cy="745.51" r="3.05"/><circle cx="1016.88" cy="720.72" r="3.05"/><circle cx="1023.73" cy="701.07" r="3.05"/><circle cx="1030.58" cy="685.52" r="3.05"/><circle cx="1037.43" cy="672.1" r="3.05"/><circle cx="1044.28" cy="660.53" r="3.05"/><circle cx="1051.12" cy="649.71" r="3.05"/><circle cx="1057.97" cy="640.87" r="3.05"/><circle cx="1064.82" cy="633.48" r="3.05"/><circle cx="1071.67" cy="626.56" r="3.05"/><circle cx="1078.52" cy="620.19" r="3.05"/><circle cx="1085.36" cy="614.65" r="3.05"/><circle cx="1092.21" cy="609.17" r="3.05"/><circle cx="1099.06" cy="604.51" r="3.05"/><circle cx="1105.91" cy="600.22" r="3.05"/><circle cx="1112.76" cy="596.16" r="3.05"/><circle cx="1119.6" cy="592.14" r="3.05"/><circle cx="1126.45" cy="588.26" r="3.05"/><circle cx="1133.3" cy="584.86" r="3.05"/><circle cx="1140.15" cy="581.96" r="3.05"/><circle cx="1147" cy="579.33" r="3.05"/><circle cx="1153.84" cy="576.9" r="3.05"/><circle cx="1160.69" cy="574.61" r="3.05"/><circle cx="1167.54" cy="572.39" r="3.05"/><circle cx="1174.39" cy="570.24" r="3.05"/><circle cx="1181.24" cy="568.19" r="3.05"/><circle cx="1188.08" cy="566.22" r="3.05"/><circle cx="1194.93" cy="564.36" r="3.05"/><circle cx="1201.78" cy="562.6" r="3.05"/><circle cx="1208.63" cy="560.88" r="3.05"/><circle cx="1215.48" cy="559.18" r="3.05"/><circle cx="1222.32" cy="557.58" r="3.05"/><circle cx="1229.17" cy="556.18" r="3.05"/><circle cx="1236.02" cy="555.07" r="3.05"/><circle cx="1242.87" cy="554.15" r="3.05"/><circle cx="1249.72" cy="553.28" r="3.05"/><circle cx="1256.56" cy="552.51" r="3.05"/><circle cx="1263.41" cy="551.85" r="3.05"/><circle cx="1270.26" cy="551.35" r="3.05"/><circle cx="1277.11" cy="551.03" r="3.05"/></g>
<polyline points="996.34,788.52 1003.19,749.35 1010.04,719.9 1016.88,696.41 1023.73,679.77 1030.58,665.8 1037.43,654.84 1044.28,644.32 1051.12,634.98 1057.97,627.78 1064.82,621.29 1071.67,614.51 1078.52,608.28 1085.36,603.21 1092.21,598.48 1099.06,593.55 1105.91,589.61 1112.76,586.09 1119.6,582.83 1126.45,579.71 1133.3,576.57 1140.15,573.36 1147,570.15 1153.84,567.05 1160.69,564.16 1167.54,561.57 1174.39,559.26 1181.24,557.11 1188.08,555.12 1194.93,553.28 1201.78,551.58 1208.63,549.95 1215.48,548.37 1222.32,546.92 1229.17,545.66 1236.02,544.66 1242.87,543.82 1249.72,543.04 1256.56,542.34 1263.41,541.75 1270.26,541.31 1277.11,541.03" fill="none" stroke="#2020ff" stroke-width="0.8"/>
<g fill="url(#s2)"><circle cx="996.34" cy="788.52" r="3.05"/><circle cx="1003.19" cy="749.35" r="3.05"/><circle cx="1010.04" cy="719.9" r="3.05"/><circle cx="1016.88" cy="696.41" r="3.05"/><circle cx="1023.73" cy="679.77" r="3.05"/><circle cx="1030.58" cy="665.8" r="3.05"/><circle cx="1037.43" cy="654.84" r="3.05"/><circle cx="1044.28" cy="644.32" r="3.05"/><circle cx="1051.12" cy="634.98" r="3.05"/><circle cx="1057.97" cy="627.78" r="3.05"/><circle cx="1064.82" cy="621.29" r="3.05"/><circle cx="1071.67" cy="614.51" r="3.05"/><circle cx="1078.52" cy="608.28" r="3.05"/><circle cx="1085.36" cy="603.21" r="3.05"/><circle cx="1092.21" cy="598.48" r="3.05"/><circle cx="1099.06" cy="593.55" r="3.05"/><circle cx="1105.91" cy="589.61" r="3.05"/><circle cx="1112.76" cy="586.09" r="3.05"/><circle cx="1119.6" cy="582.83" r="3.05"/><circle cx="1126.45" cy="579.71" r="3.05"/><circle cx="1133.3" cy="576.57" r="3.05"/><circle cx="1140.15" cy="573.36" r="3.05"/><circle cx="1147" cy="570.15" r="3.05"/><circle cx="1153.84" cy="567.05" r="3.05"/><circle cx="1160.69" cy="564.16" r="3.05"/><circle cx="1167.54" cy="561.57" r="3.05"/><circle cx="1174.39" cy="559.26" r="3.05"/><circle cx="1181.24" cy="557.11" r="3.05"/><circle cx="1188.08" cy="555.12" r="3.05"/><circle cx="1194.93" cy="553.28" r="3.05"/><circle cx="1201.78" cy="551.58" r="3.05"/><circle cx="1208.63" cy="549.95" r="3.05"/><circle cx="1215.48" cy="548.37" r="3.05"/><circle cx="1222.32" cy="546.92" r="3.05"/><circle cx="1229.17" cy="545.66" r="3.05"/><circle cx="1236.02" cy="544.66" r="3.05"/><circle cx="1242.87" cy="543.82" r="3.05"/><circle cx="1249.72" cy="543.04" r="3.05"/><circle cx="1256.56" cy="542.34" r="3.05"/><circle cx="1263.41" cy="541.75" r="3.05"/><circle cx="1270.26" cy="541.31" r="3.05"/><circle cx="1277.11" cy="541.03" r="3.05"/></g>
<polyline points="1003.19,757.29 1010.04,729.28 1016.88,706.82 1023.73,687.85 1030.58,670.94 1037.43,657.58 1044.28,646.09 1051.12,635.74 1057.97,626.56 1064.82,618.41 1071.67,611.47 1078.52,605.13 1085.36,599.15 1092.21,593.55 1099.06,588.42 1105.91,584.22 1112.76,580.4 1119.6,576.87 1126.45,573.52 1133.3,570.27 1140.15,567.05 1147,563.9 1153.84,560.91 1160.69,558.15 1167.54,555.68 1174.39,553.46 1181.24,551.38 1188.08,549.47 1194.93,547.77 1201.78,546.3 1208.63,544.99 1215.48,543.78 1222.32,542.69 1229.17,541.78 1236.02,541.1 1242.87,540.55 1249.72,540.05 1256.56,539.63 1263.41,539.33 1270.26,539.18" fill="none" stroke="#ff20ff" stroke-width="0.8"/>
<g fill="url(#s3)"><circle cx="1003.19" cy="757.29" r="3.05"/><circle cx="1010.04" cy="729.28" r="3.05"/><circle cx="1016.88" cy="706.82" r="3.05"/><circle cx="1023.73" cy="687.85" r="3.05"/><circle cx="1030.58" cy="670.94" r="3.05"/><circle cx="1037.43" cy="657.58" r="3.05"/><circle cx="1044.28" cy="646.09" r="3.05"/><circle cx="1051.12" cy="635.74" r="3.05"/><circle cx="1057.97" cy="626.56" r="3.05"/><circle cx="1064.82" cy="618.41" r="3.05"/><circle cx="1071.67" cy="611.47" r="3.05"/><circle cx="1078.52" cy="605.13" r="3.05"/><circle cx="1085.36" cy="599.15" r="3.05"/><circle cx="1092.21" cy="593.55" r="3.05"/><circle cx="1099.06" cy="588.42" r="3.05"/><circle cx="1105.91" cy="584.22" r="3.05"/><circle cx="1112.76" cy="580.4" r="3.05"/><circle cx="1119.6" cy="576.87" r="3.05"/><circle cx="1126.45" cy="573.52" r="3.05"/><circle cx="1133.3" cy="570.27" r="3.05"/><circle cx="1140.15" cy="567.05" r="3.05"/><circle cx="1147" cy="563.9" r="3.05"/><circle cx="1153.84" cy="560.91" r="3.05"/><circle cx="1160.69" cy="558.15" r="3.05"/><circle cx="1167.54" cy="555.68" r="3.05"/><circle cx="1174.39" cy="553.46" r="3.05"/><circle cx="1181.24" cy="551.38" r="3.05"/><circle cx="1188.08" cy="549.47" r="3.05"/><circle cx="1194.93" cy="547.77" r="3.05"/><circle cx="1201.78" cy="546.3" r="3.05"/><circle cx="1208.63" cy="544.99" r="3.05"/><circle cx="1215.48" cy="543.78" r="3.05"/><circle cx="1222.32" cy="542.69" r="3.05"/><circle cx="1229.17" cy="541.78" r="3.05"/><circle cx="1236.02" cy="541.1" r="3.05"/><circle cx="1242.87" cy="540.55" r="3.05"/><circle cx="1249.72" cy="540.05" r="3.05"/><circle cx="1256.56" cy="539.63" r="3.05"/><circle cx="1263.41" cy="539.33" r="3.05"/><circle cx="1270.26" cy="539.18" r="3.05"/></g>
<polyline points="1003.19,746.2 1010.04,717.85 1016.88,695.25 1023.73,674.43 1030.58,658.27 1037.43,645.05 1044.28,633.47 1051.12,623.34 1057.97,614.86 1064.82,607.59 1071.67,601.42 1078.52,595.95 1085.36,590.85 1092.21,586.09 1099.06,581.57 1105.91,577.14 1112.76,572.77 1119.6,568.6 1126.45,564.76 1133.3,561.37 1140.15,558.38 1147,555.62 1153.84,553.1 1160.69,550.8 1167.54,548.7 1174.39,546.75 1181.24,544.93 1188.08,543.25 1194.93,541.76 1201.78,540.48 1208.63,539.35 1215.48,538.3 1222.32,537.37 1229.17,536.6 1236.02,536.03 1242.87,535.59 1249.72,535.18 1256.56,534.84 1263.41,534.61 1270.26,534.52" fill="none" stroke="#0a8a0a" stroke-width="0.8"/>
<g fill="url(#s4)"><circle cx="1003.19" cy="746.2" r="3.05"/><circle cx="1010.04" cy="717.85" r="3.05"/><circle cx="1016.88" cy="695.25" r="3.05"/><circle cx="1023.73" cy="674.43" r="3.05"/><circle cx="1030.58" cy="658.27" r="3.05"/><circle cx="1037.43" cy="645.05" r="3.05"/><circle cx="1044.28" cy="633.47" r="3.05"/><circle cx="1051.12" cy="623.34" r="3.05"/><circle cx="1057.97" cy="614.86" r="3.05"/><circle cx="1064.82" cy="607.59" r="3.05"/><circle cx="1071.67" cy="601.42" r="3.05"/><circle cx="1078.52" cy="595.95" r="3.05"/><circle cx="1085.36" cy="590.85" r="3.05"/><circle cx="1092.21" cy="586.09" r="3.05"/><circle cx="1099.06" cy="581.57" r="3.05"/><circle cx="1105.91" cy="577.14" r="3.05"/><circle cx="1112.76" cy="572.77" r="3.05"/><circle cx="1119.6" cy="568.6" r="3.05"/><circle cx="1126.45" cy="564.76" r="3.05"/><circle cx="1133.3" cy="561.37" r="3.05"/><circle cx="1140.15" cy="558.38" r="3.05"/><circle cx="1147" cy="555.62" r="3.05"/><circle cx="1153.84" cy="553.1" r="3.05"/><circle cx="1160.69" cy="550.8" r="3.05"/><circle cx="1167.54" cy="548.7" r="3.05"/><circle cx="1174.39" cy="546.75" r="3.05"/><circle cx="1181.24" cy="544.93" r="3.05"/><circle cx="1188.08" cy="543.25" r="3.05"/><circle cx="1194.93" cy="541.76" r="3.05"/><circle cx="1201.78" cy="540.48" r="3.05"/><circle cx="1208.63" cy="539.35" r="3.05"/><circle cx="1215.48" cy="538.3" r="3.05"/><circle cx="1222.32" cy="537.37" r="3.05"/><circle cx="1229.17" cy="536.6" r="3.05"/><circle cx="1236.02" cy="536.03" r="3.05"/><circle cx="1242.87" cy="535.59" r="3.05"/><circle cx="1249.72" cy="535.18" r="3.05"/><circle cx="1256.56" cy="534.84" r="3.05"/><circle cx="1263.41" cy="534.61" r="3.05"/><circle cx="1270.26" cy="534.52" r="3.05"/></g>
<polyline points="1003.19,739.96 1010.04,707.98 1016.88,682.58 1023.73,662.86 1030.58,647.38 1037.43,633.96 1044.28,622.86 1051.12,613.76 1057.97,605.68 1064.82,598.76 1071.67,592.66 1078.52,587.59 1085.36,582.98 1092.21,578.72 1099.06,574.72 1105.91,570.92 1112.76,567.31 1119.6,563.88 1126.45,560.65 1133.3,557.6 1140.15,554.64 1147,551.75 1153.84,549.04 1160.69,546.62 1167.54,544.59 1174.39,542.86 1181.24,541.26 1188.08,539.86 1194.93,538.67 1201.78,537.74 1208.63,536.98 1215.48,536.27 1222.32,535.67 1229.17,535.24 1236.02,535 1242.87,534.9 1249.72,534.83 1256.56,534.8" fill="none" stroke="#ff8a20" stroke-width="0.8"/>
<g fill="url(#s5)"><circle cx="1003.19" cy="739.96" r="3.05"/><circle cx="1010.04" cy="707.98" r="3.05"/><circle cx="1016.88" cy="682.58" r="3.05"/><circle cx="1023.73" cy="662.86" r="3.05"/><circle cx="1030.58" cy="647.38" r="3.05"/><circle cx="1037.43" cy="633.96" r="3.05"/><circle cx="1044.28" cy="622.86" r="3.05"/><circle cx="1051.12" cy="613.76" r="3.05"/><circle cx="1057.97" cy="605.68" r="3.05"/><circle cx="1064.82" cy="598.76" r="3.05"/><circle cx="1071.67" cy="592.66" r="3.05"/><circle cx="1078.52" cy="587.59" r="3.05"/><circle cx="1085.36" cy="582.98" r="3.05"/><circle cx="1092.21" cy="578.72" r="3.05"/><circle cx="1099.06" cy="574.72" r="3.05"/><circle cx="1105.91" cy="570.92" r="3.05"/><circle cx="1112.76" cy="567.31" r="3.05"/><circle cx="1119.6" cy="563.88" r="3.05"/><circle cx="1126.45" cy="560.65" r="3.05"/><circle cx="1133.3" cy="557.6" r="3.05"/><circle cx="1140.15" cy="554.64" r="3.05"/><circle cx="1147" cy="551.75" r="3.05"/><circle cx="1153.84" cy="549.04" r="3.05"/><circle cx="1160.69" cy="546.62" r="3.05"/><circle cx="1167.54" cy="544.59" r="3.05"/><circle cx="1174.39" cy="542.86" r="3.05"/><circle cx="1181.24" cy="541.26" r="3.05"/><circle cx="1188.08" cy="539.86" r="3.05"/><circle cx="1194.93" cy="538.67" r="3.05"/><circle cx="1201.78" cy="537.74" r="3.05"/><circle cx="1208.63" cy="536.98" r="3.05"/><circle cx="1215.48" cy="536.27" r="3.05"/><circle cx="1222.32" cy="535.67" r="3.05"/><circle cx="1229.17" cy="535.24" r="3.05"/><circle cx="1236.02" cy="535" r="3.05"/><circle cx="1242.87" cy="534.9" r="3.05"/><circle cx="1249.72" cy="534.83" r="3.05"/><circle cx="1256.56" cy="534.8" r="3.05"/></g>
<polyline points="1003.19,752.63 1010.04,718.39 1016.88,692.51 1023.73,671.42 1030.58,655.25 1037.43,642.52 1044.28,630.74 1051.12,621.01 1057.97,612.93 1064.82,605.68 1071.67,599.03 1078.52,593.83 1085.36,589.63 1092.21,585.89 1099.06,582.26 1105.91,578.54 1112.76,574.83 1119.6,571.22 1126.45,567.8 1133.3,564.66 1140.15,561.64 1147,558.67 1153.84,555.92 1160.69,553.57 1167.54,551.78 1174.39,550.45 1181.24,549.3 1188.08,548.33 1194.93,547.49 1201.78,546.78 1208.63,546.17 1215.48,545.65 1222.32,545.18 1229.17,544.75 1236.02,544.32 1242.87,543.91" fill="none" stroke="#8a2aff" stroke-width="0.8"/>
<g fill="url(#s6)"><circle cx="1003.19" cy="752.63" r="3.05"/><circle cx="1010.04" cy="718.39" r="3.05"/><circle cx="1016.88" cy="692.51" r="3.05"/><circle cx="1023.73" cy="671.42" r="3.05"/><circle cx="1030.58" cy="655.25" r="3.05"/><circle cx="1037.43" cy="642.52" r="3.05"/><circle cx="1044.28" cy="630.74" r="3.05"/><circle cx="1051.12" cy="621.01" r="3.05"/><circle cx="1057.97" cy="612.93" r="3.05"/><circle cx="1064.82" cy="605.68" r="3.05"/><circle cx="1071.67" cy="599.03" r="3.05"/><circle cx="1078.52" cy="593.83" r="3.05"/><circle cx="1085.36" cy="589.63" r="3.05"/><circle cx="1092.21" cy="585.89" r="3.05"/><circle cx="1099.06" cy="582.26" r="3.05"/><circle cx="1105.91" cy="578.54" r="3.05"/><circle cx="1112.76" cy="574.83" r="3.05"/><circle cx="1119.6" cy="571.22" r="3.05"/><circle cx="1126.45" cy="567.8" r="3.05"/><circle cx="1133.3" cy="564.66" r="3.05"/><circle cx="1140.15" cy="561.64" r="3.05"/><circle cx="1147" cy="558.67" r="3.05"/><circle cx="1153.84" cy="555.92" r="3.05"/><circle cx="1160.69" cy="553.57" r="3.05"/><circle cx="1167.54" cy="551.78" r="3.05"/><circle cx="1174.39" cy="550.45" r="3.05"/><circle cx="1181.24" cy="549.3" r="3.05"/><circle cx="1188.08" cy="548.33" r="3.05"/><circle cx="1194.93" cy="547.49" r="3.05"/><circle cx="1201.78" cy="546.78" r="3.05"/><circle cx="1208.63" cy="546.17" r="3.05"/><circle cx="1215.48" cy="545.65" r="3.05"/><circle cx="1222.32" cy="545.18" r="3.05"/><circle cx="1229.17" cy="544.75" r="3.05"/><circle cx="1236.02" cy="544.32" r="3.05"/><circle cx="1242.87" cy="543.91" r="3.05"/></g>
<polyline points="1010.04,805.5 1016.88,805.43 1023.73,805.33 1030.58,805.2 1037.43,805.05 1044.28,804.86 1051.12,804.64 1057.97,804.35 1064.82,803.98 1071.67,803.3 1078.52,802.19 1085.36,800.77 1092.21,799.16 1099.06,797.51 1105.91,795.72 1112.76,793.66 1119.6,791.39 1126.45,788.98 1133.3,786.48 1140.15,783.92 1147,781.23 1153.84,778.35 1160.69,775.23 1167.54,771.8 1174.39,767.9 1181.24,763.49 1188.08,758.69 1194.93,753.64 1201.78,748.44 1208.63,743.05 1215.48,737.36 1222.32,731.4 1229.17,725.19 1236.02,718.77 1242.87,712.14 1249.72,704.69 1256.56,695.31 1263.41,685.29 1270.26,676.24 1277.11,667.03 1283.96,656.97 1290.8,646.26 1297.65,634.7" fill="none" stroke="#1a1a1a" stroke-width="0.8"/>
<g fill="url(#s0)"><circle cx="1010.04" cy="805.5" r="3.05"/><circle cx="1016.88" cy="805.43" r="3.05"/><circle cx="1023.73" cy="805.33" r="3.05"/><circle cx="1030.58" cy="805.2" r="3.05"/><circle cx="1037.43" cy="805.05" r="3.05"/><circle cx="1044.28" cy="804.86" r="3.05"/><circle cx="1051.12" cy="804.64" r="3.05"/><circle cx="1057.97" cy="804.35" r="3.05"/><circle cx="1064.82" cy="803.98" r="3.05"/><circle cx="1071.67" cy="803.3" r="3.05"/><circle cx="1078.52" cy="802.19" r="3.05"/><circle cx="1085.36" cy="800.77" r="3.05"/><circle cx="1092.21" cy="799.16" r="3.05"/><circle cx="1099.06" cy="797.51" r="3.05"/><circle cx="1105.91" cy="795.72" r="3.05"/><circle cx="1112.76" cy="793.66" r="3.05"/><circle cx="1119.6" cy="791.39" r="3.05"/><circle cx="1126.45" cy="788.98" r="3.05"/><circle cx="1133.3" cy="786.48" r="3.05"/><circle cx="1140.15" cy="783.92" r="3.05"/><circle cx="1147" cy="781.23" r="3.05"/><circle cx="1153.84" cy="778.35" r="3.05"/><circle cx="1160.69" cy="775.23" r="3.05"/><circle cx="1167.54" cy="771.8" r="3.05"/><circle cx="1174.39" cy="767.9" r="3.05"/><circle cx="1181.24" cy="763.49" r="3.05"/><circle cx="1188.08" cy="758.69" r="3.05"/><circle cx="1194.93" cy="753.64" r="3.05"/><circle cx="1201.78" cy="748.44" r="3.05"/><circle cx="1208.63" cy="743.05" r="3.05"/><circle cx="1215.48" cy="737.36" r="3.05"/><circle cx="1222.32" cy="731.4" r="3.05"/><circle cx="1229.17" cy="725.19" r="3.05"/><circle cx="1236.02" cy="718.77" r="3.05"/><circle cx="1242.87" cy="712.14" r="3.05"/><circle cx="1249.72" cy="704.69" r="3.05"/><circle cx="1256.56" cy="695.31" r="3.05"/><circle cx="1263.41" cy="685.29" r="3.05"/><circle cx="1270.26" cy="676.24" r="3.05"/><circle cx="1277.11" cy="667.03" r="3.05"/><circle cx="1283.96" cy="656.97" r="3.05"/><circle cx="1290.8" cy="646.26" r="3.05"/><circle cx="1297.65" cy="634.7" r="3.05"/></g>
<polyline points="1003.19,805.5 1010.04,805.44 1016.88,805.27 1023.73,805.03 1030.58,804.74 1037.43,804.3 1044.28,803.6 1051.12,802.7 1057.97,801.6 1064.82,800.36 1071.67,798.7 1078.52,796.42 1085.36,793.71 1092.21,790.71 1099.06,787.62 1105.91,784.33 1112.76,780.66 1119.6,776.68 1126.45,772.45 1133.3,768.03 1140.15,763.36 1147,758.37 1153.84,753.08 1160.69,747.51 1167.54,741.71 1174.39,735.55 1181.24,728.98 1188.08,722.09 1194.93,714.96 1201.78,707.36 1208.63,698.88 1215.48,690.01 1222.32,681.22 1229.17,672.28 1236.02,662.85 1242.87,652.49 1249.72,641.7 1256.56,631.05 1263.41,620.25 1270.26,609.19 1277.11,597.92" fill="none" stroke="#ff2020" stroke-width="0.8"/>
<g fill="url(#s1)"><circle cx="1003.19" cy="805.5" r="3.05"/><circle cx="1010.04" cy="805.44" r="3.05"/><circle cx="1016.88" cy="805.27" r="3.05"/><circle cx="1023.73" cy="805.03" r="3.05"/><circle cx="1030.58" cy="804.74" r="3.05"/><circle cx="1037.43" cy="804.3" r="3.05"/><circle cx="1044.28" cy="803.6" r="3.05"/><circle cx="1051.12" cy="802.7" r="3.05"/><circle cx="1057.97" cy="801.6" r="3.05"/><circle cx="1064.82" cy="800.36" r="3.05"/><circle cx="1071.67" cy="798.7" r="3.05"/><circle cx="1078.52" cy="796.42" r="3.05"/><circle cx="1085.36" cy="793.71" r="3.05"/><circle cx="1092.21" cy="790.71" r="3.05"/><circle cx="1099.06" cy="787.62" r="3.05"/><circle cx="1105.91" cy="784.33" r="3.05"/><circle cx="1112.76" cy="780.66" r="3.05"/><circle cx="1119.6" cy="776.68" r="3.05"/><circle cx="1126.45" cy="772.45" r="3.05"/><circle cx="1133.3" cy="768.03" r="3.05"/><circle cx="1140.15" cy="763.36" r="3.05"/><circle cx="1147" cy="758.37" r="3.05"/><circle cx="1153.84" cy="753.08" r="3.05"/><circle cx="1160.69" cy="747.51" r="3.05"/><circle cx="1167.54" cy="741.71" r="3.05"/><circle cx="1174.39" cy="735.55" r="3.05"/><circle cx="1181.24" cy="728.98" r="3.05"/><circle cx="1188.08" cy="722.09" r="3.05"/><circle cx="1194.93" cy="714.96" r="3.05"/><circle cx="1201.78" cy="707.36" r="3.05"/><circle cx="1208.63" cy="698.88" r="3.05"/><circle cx="1215.48" cy="690.01" r="3.05"/><circle cx="1222.32" cy="681.22" r="3.05"/><circle cx="1229.17" cy="672.28" r="3.05"/><circle cx="1236.02" cy="662.85" r="3.05"/><circle cx="1242.87" cy="652.49" r="3.05"/><circle cx="1249.72" cy="641.7" r="3.05"/><circle cx="1256.56" cy="631.05" r="3.05"/><circle cx="1263.41" cy="620.25" r="3.05"/><circle cx="1270.26" cy="609.19" r="3.05"/><circle cx="1277.11" cy="597.92" r="3.05"/></g>
<polyline points="996.34,805.5 1003.19,805.45 1010.04,805.32 1016.88,805.11 1023.73,804.85 1030.58,804.55 1037.43,804.05 1044.28,803.24 1051.12,802.16 1057.97,800.87 1064.82,799.41 1071.67,797.49 1078.52,794.88 1085.36,791.78 1092.21,788.41 1099.06,784.96 1105.91,781.37 1112.76,777.47 1119.6,773.26 1126.45,768.78 1133.3,764.04 1140.15,758.94 1147,753.43 1153.84,747.56 1160.69,741.38 1167.54,734.94 1174.39,728.11 1181.24,720.76 1188.08,712.91 1194.93,704.39 1201.78,695.18 1208.63,685.5 1215.48,675.02 1222.32,663.25 1229.17,650.58 1236.02,637.9 1242.87,625.6 1249.72,613.02 1256.56,599.54 1263.41,585.82 1270.26,572.42 1277.11,559.15" fill="none" stroke="#2020ff" stroke-width="0.8"/>
<g fill="url(#s2)"><circle cx="996.34" cy="805.5" r="3.05"/><circle cx="1003.19" cy="805.45" r="3.05"/><circle cx="1010.04" cy="805.32" r="3.05"/><circle cx="1016.88" cy="805.11" r="3.05"/><circle cx="1023.73" cy="804.85" r="3.05"/><circle cx="1030.58" cy="804.55" r="3.05"/><circle cx="1037.43" cy="804.05" r="3.05"/><circle cx="1044.28" cy="803.24" r="3.05"/><circle cx="1051.12" cy="802.16" r="3.05"/><circle cx="1057.97" cy="800.87" r="3.05"/><circle cx="1064.82" cy="799.41" r="3.05"/><circle cx="1071.67" cy="797.49" r="3.05"/><circle cx="1078.52" cy="794.88" r="3.05"/><circle cx="1085.36" cy="791.78" r="3.05"/><circle cx="1092.21" cy="788.41" r="3.05"/><circle cx="1099.06" cy="784.96" r="3.05"/><circle cx="1105.91" cy="781.37" r="3.05"/><circle cx="1112.76" cy="777.47" r="3.05"/><circle cx="1119.6" cy="773.26" r="3.05"/><circle cx="1126.45" cy="768.78" r="3.05"/><circle cx="1133.3" cy="764.04" r="3.05"/><circle cx="1140.15" cy="758.94" r="3.05"/><circle cx="1147" cy="753.43" r="3.05"/><circle cx="1153.84" cy="747.56" r="3.05"/><circle cx="1160.69" cy="741.38" r="3.05"/><circle cx="1167.54" cy="734.94" r="3.05"/><circle cx="1174.39" cy="728.11" r="3.05"/><circle cx="1181.24" cy="720.76" r="3.05"/><circle cx="1188.08" cy="712.91" r="3.05"/><circle cx="1194.93" cy="704.39" r="3.05"/><circle cx="1201.78" cy="695.18" r="3.05"/><circle cx="1208.63" cy="685.5" r="3.05"/><circle cx="1215.48" cy="675.02" r="3.05"/><circle cx="1222.32" cy="663.25" r="3.05"/><circle cx="1229.17" cy="650.58" r="3.05"/><circle cx="1236.02" cy="637.9" r="3.05"/><circle cx="1242.87" cy="625.6" r="3.05"/><circle cx="1249.72" cy="613.02" r="3.05"/><circle cx="1256.56" cy="599.54" r="3.05"/><circle cx="1263.41" cy="585.82" r="3.05"/><circle cx="1270.26" cy="572.42" r="3.05"/><circle cx="1277.11" cy="559.15" r="3.05"/></g>
<polyline points="1003.19,805.5 1010.04,805.41 1016.88,805.16 1023.73,804.79 1030.58,804.36 1037.43,803.7 1044.28,802.69 1051.12,801.39 1057.97,799.86 1064.82,798.16 1071.67,796.05 1078.52,793.32 1085.36,790.15 1092.21,786.69 1099.06,783.09 1105.91,779.29 1112.76,775.1 1119.6,770.57 1126.45,765.7 1133.3,760.54 1140.15,754.91 1147,748.75 1153.84,742.17 1160.69,735.31 1167.54,728.28 1174.39,720.87 1181.24,713.06 1188.08,705.11 1194.93,696.95 1201.78,688.53 1208.63,679.76 1215.48,670.7 1222.32,661.48 1229.17,652.08 1236.02,642.5 1242.87,632.79 1249.72,622.91 1256.56,612.55 1263.41,602.52 1270.26,593.77" fill="none" stroke="#ff20ff" stroke-width="0.8"/>
<g fill="url(#s3)"><circle cx="1003.19" cy="805.5" r="3.05"/><circle cx="1010.04" cy="805.41" r="3.05"/><circle cx="1016.88" cy="805.16" r="3.05"/><circle cx="1023.73" cy="804.79" r="3.05"/><circle cx="1030.58" cy="804.36" r="3.05"/><circle cx="1037.43" cy="803.7" r="3.05"/><circle cx="1044.28" cy="802.69" r="3.05"/><circle cx="1051.12" cy="801.39" r="3.05"/><circle cx="1057.97" cy="799.86" r="3.05"/><circle cx="1064.82" cy="798.16" r="3.05"/><circle cx="1071.67" cy="796.05" r="3.05"/><circle cx="1078.52" cy="793.32" r="3.05"/><circle cx="1085.36" cy="790.15" r="3.05"/><circle cx="1092.21" cy="786.69" r="3.05"/><circle cx="1099.06" cy="783.09" r="3.05"/><circle cx="1105.91" cy="779.29" r="3.05"/><circle cx="1112.76" cy="775.1" r="3.05"/><circle cx="1119.6" cy="770.57" r="3.05"/><circle cx="1126.45" cy="765.7" r="3.05"/><circle cx="1133.3" cy="760.54" r="3.05"/><circle cx="1140.15" cy="754.91" r="3.05"/><circle cx="1147" cy="748.75" r="3.05"/><circle cx="1153.84" cy="742.17" r="3.05"/><circle cx="1160.69" cy="735.31" r="3.05"/><circle cx="1167.54" cy="728.28" r="3.05"/><circle cx="1174.39" cy="720.87" r="3.05"/><circle cx="1181.24" cy="713.06" r="3.05"/><circle cx="1188.08" cy="705.11" r="3.05"/><circle cx="1194.93" cy="696.95" r="3.05"/><circle cx="1201.78" cy="688.53" r="3.05"/><circle cx="1208.63" cy="679.76" r="3.05"/><circle cx="1215.48" cy="670.7" r="3.05"/><circle cx="1222.32" cy="661.48" r="3.05"/><circle cx="1229.17" cy="652.08" r="3.05"/><circle cx="1236.02" cy="642.5" r="3.05"/><circle cx="1242.87" cy="632.79" r="3.05"/><circle cx="1249.72" cy="622.91" r="3.05"/><circle cx="1256.56" cy="612.55" r="3.05"/><circle cx="1263.41" cy="602.52" r="3.05"/><circle cx="1270.26" cy="593.77" r="3.05"/></g>
<polyline points="1003.19,805.5 1010.04,805.35 1016.88,804.93 1023.73,804.33 1030.58,803.6 1037.43,802.39 1044.28,800.43 1051.12,797.92 1057.97,795.08 1064.82,792.11 1071.67,788.81 1078.52,784.93 1085.36,780.6 1092.21,775.94 1099.06,771.07 1105.91,765.89 1112.76,760.26 1119.6,754.24 1126.45,747.93 1133.3,741.4 1140.15,734.6 1147,727.42 1153.84,719.92 1160.69,712.13 1167.54,704.09 1174.39,695.62 1181.24,686.68 1188.08,677.5 1194.93,668.07 1201.78,658.29 1208.63,648.11 1215.48,637.65 1222.32,627.09 1229.17,616.55 1236.02,605.79 1242.87,594.54 1249.72,583.12 1256.56,571.78 1263.41,560.52 1270.26,549.49" fill="none" stroke="#0a8a0a" stroke-width="0.8"/>
<g fill="url(#s4)"><circle cx="1003.19" cy="805.5" r="3.05"/><circle cx="1010.04" cy="805.35" r="3.05"/><circle cx="1016.88" cy="804.93" r="3.05"/><circle cx="1023.73" cy="804.33" r="3.05"/><circle cx="1030.58" cy="803.6" r="3.05"/><circle cx="1037.43" cy="802.39" r="3.05"/><circle cx="1044.28" cy="800.43" r="3.05"/><circle cx="1051.12" cy="797.92" r="3.05"/><circle cx="1057.97" cy="795.08" r="3.05"/><circle cx="1064.82" cy="792.11" r="3.05"/><circle cx="1071.67" cy="788.81" r="3.05"/><circle cx="1078.52" cy="784.93" r="3.05"/><circle cx="1085.36" cy="780.6" r="3.05"/><circle cx="1092.21" cy="775.94" r="3.05"/><circle cx="1099.06" cy="771.07" r="3.05"/><circle cx="1105.91" cy="765.89" r="3.05"/><circle cx="1112.76" cy="760.26" r="3.05"/><circle cx="1119.6" cy="754.24" r="3.05"/><circle cx="1126.45" cy="747.93" r="3.05"/><circle cx="1133.3" cy="741.4" r="3.05"/><circle cx="1140.15" cy="734.6" r="3.05"/><circle cx="1147" cy="727.42" r="3.05"/><circle cx="1153.84" cy="719.92" r="3.05"/><circle cx="1160.69" cy="712.13" r="3.05"/><circle cx="1167.54" cy="704.09" r="3.05"/><circle cx="1174.39" cy="695.62" r="3.05"/><circle cx="1181.24" cy="686.68" r="3.05"/><circle cx="1188.08" cy="677.5" r="3.05"/><circle cx="1194.93" cy="668.07" r="3.05"/><circle cx="1201.78" cy="658.29" r="3.05"/><circle cx="1208.63" cy="648.11" r="3.05"/><circle cx="1215.48" cy="637.65" r="3.05"/><circle cx="1222.32" cy="627.09" r="3.05"/><circle cx="1229.17" cy="616.55" r="3.05"/><circle cx="1236.02" cy="605.79" r="3.05"/><circle cx="1242.87" cy="594.54" r="3.05"/><circle cx="1249.72" cy="583.12" r="3.05"/><circle cx="1256.56" cy="571.78" r="3.05"/><circle cx="1263.41" cy="560.52" r="3.05"/><circle cx="1270.26" cy="549.49" r="3.05"/></g>
<polyline points="1003.19,805.5 1010.04,805.27 1016.88,804.66 1023.73,803.76 1030.58,802.69 1037.43,800.86 1044.28,797.91 1051.12,794.22 1057.97,790.15 1064.82,786.1 1071.67,781.97 1078.52,777.47 1085.36,772.63 1092.21,767.51 1099.06,762.13 1105.91,756.43 1112.76,750.32 1119.6,743.87 1126.45,737.13 1133.3,730.18 1140.15,722.99 1147,715.48 1153.84,707.65 1160.69,699.49 1167.54,691 1174.39,681.92 1181.24,672.28 1188.08,662.47 1194.93,652.58 1201.78,642.5 1208.63,632.3 1215.48,621.97 1222.32,611.5 1229.17,600.82 1236.02,590 1242.87,578.93 1249.72,568.13 1256.56,558.32" fill="none" stroke="#ff8a20" stroke-width="0.8"/>
<g fill="url(#s5)"><circle cx="1003.19" cy="805.5" r="3.05"/><circle cx="1010.04" cy="805.27" r="3.05"/><circle cx="1016.88" cy="804.66" r="3.05"/><circle cx="1023.73" cy="803.76" r="3.05"/><circle cx="1030.58" cy="802.69" r="3.05"/><circle cx="1037.43" cy="800.86" r="3.05"/><circle cx="1044.28" cy="797.91" r="3.05"/><circle cx="1051.12" cy="794.22" r="3.05"/><circle cx="1057.97" cy="790.15" r="3.05"/><circle cx="1064.82" cy="786.1" r="3.05"/><circle cx="1071.67" cy="781.97" r="3.05"/><circle cx="1078.52" cy="777.47" r="3.05"/><circle cx="1085.36" cy="772.63" r="3.05"/><circle cx="1092.21" cy="767.51" r="3.05"/><circle cx="1099.06" cy="762.13" r="3.05"/><circle cx="1105.91" cy="756.43" r="3.05"/><circle cx="1112.76" cy="750.32" r="3.05"/><circle cx="1119.6" cy="743.87" r="3.05"/><circle cx="1126.45" cy="737.13" r="3.05"/><circle cx="1133.3" cy="730.18" r="3.05"/><circle cx="1140.15" cy="722.99" r="3.05"/><circle cx="1147" cy="715.48" r="3.05"/><circle cx="1153.84" cy="707.65" r="3.05"/><circle cx="1160.69" cy="699.49" r="3.05"/><circle cx="1167.54" cy="691" r="3.05"/><circle cx="1174.39" cy="681.92" r="3.05"/><circle cx="1181.24" cy="672.28" r="3.05"/><circle cx="1188.08" cy="662.47" r="3.05"/><circle cx="1194.93" cy="652.58" r="3.05"/><circle cx="1201.78" cy="642.5" r="3.05"/><circle cx="1208.63" cy="632.3" r="3.05"/><circle cx="1215.48" cy="621.97" r="3.05"/><circle cx="1222.32" cy="611.5" r="3.05"/><circle cx="1229.17" cy="600.82" r="3.05"/><circle cx="1236.02" cy="590" r="3.05"/><circle cx="1242.87" cy="578.93" r="3.05"/><circle cx="1249.72" cy="568.13" r="3.05"/><circle cx="1256.56" cy="558.32" r="3.05"/></g>
<polyline points="1003.19,805.5 1010.04,805.28 1016.88,804.7 1023.73,803.85 1030.58,802.84 1037.43,801.25 1044.28,798.78 1051.12,795.68 1057.97,792.23 1064.82,788.69 1071.67,784.91 1078.52,780.63 1085.36,775.95 1092.21,770.97 1099.06,765.79 1105.91,760.31 1112.76,754.43 1119.6,748.21 1126.45,741.69 1133.3,734.94 1140.15,727.82 1147,720.27 1153.84,712.43 1160.69,704.4 1167.54,696.33 1174.39,688.17 1181.24,679.81 1188.08,671.22 1194.93,662.29 1201.78,653.11 1208.63,643.79 1215.48,634.33 1222.32,624.81 1229.17,615.3 1236.02,605.64 1242.87,595.63" fill="none" stroke="#8a2aff" stroke-width="0.8"/>
<g fill="url(#s6)"><circle cx="1003.19" cy="805.5" r="3.05"/><circle cx="1010.04" cy="805.28" r="3.05"/><circle cx="1016.88" cy="804.7" r="3.05"/><circle cx="1023.73" cy="803.85" r="3.05"/><circle cx="1030.58" cy="802.84" r="3.05"/><circle cx="1037.43" cy="801.25" r="3.05"/><circle cx="1044.28" cy="798.78" r="3.05"/><circle cx="1051.12" cy="795.68" r="3.05"/><circle cx="1057.97" cy="792.23" r="3.05"/><circle cx="1064.82" cy="788.69" r="3.05"/><circle cx="1071.67" cy="784.91" r="3.05"/><circle cx="1078.52" cy="780.63" r="3.05"/><circle cx="1085.36" cy="775.95" r="3.05"/><circle cx="1092.21" cy="770.97" r="3.05"/><circle cx="1099.06" cy="765.79" r="3.05"/><circle cx="1105.91" cy="760.31" r="3.05"/><circle cx="1112.76" cy="754.43" r="3.05"/><circle cx="1119.6" cy="748.21" r="3.05"/><circle cx="1126.45" cy="741.69" r="3.05"/><circle cx="1133.3" cy="734.94" r="3.05"/><circle cx="1140.15" cy="727.82" r="3.05"/><circle cx="1147" cy="720.27" r="3.05"/><circle cx="1153.84" cy="712.43" r="3.05"/><circle cx="1160.69" cy="704.4" r="3.05"/><circle cx="1167.54" cy="696.33" r="3.05"/><circle cx="1174.39" cy="688.17" r="3.05"/><circle cx="1181.24" cy="679.81" r="3.05"/><circle cx="1188.08" cy="671.22" r="3.05"/><circle cx="1194.93" cy="662.29" r="3.05"/><circle cx="1201.78" cy="653.11" r="3.05"/><circle cx="1208.63" cy="643.79" r="3.05"/><circle cx="1215.48" cy="634.33" r="3.05"/><circle cx="1222.32" cy="624.81" r="3.05"/><circle cx="1229.17" cy="615.3" r="3.05"/><circle cx="1236.02" cy="605.64" r="3.05"/><circle cx="1242.87" cy="595.63" r="3.05"/></g>
</g>
<rect x="962.1" y="463.5" width="342.5" height="342.6" fill="none" stroke="#5c5c5c" stroke-width="1.3"/>
<path d="M962.1 806.1v5.8M975.8 806.1v3.1M989.5 806.1v3.1M1003.2 806.1v3.1M1016.9 806.1v3.1M1030.6 806.1v5.8M1044.3 806.1v3.1M1058 806.1v3.1M1071.7 806.1v3.1M1085.4 806.1v3.1M1099.1 806.1v5.8M1112.8 806.1v3.1M1126.5 806.1v3.1M1140.2 806.1v3.1M1153.9 806.1v3.1M1167.6 806.1v5.8M1181.3 806.1v3.1M1195 806.1v3.1M1208.7 806.1v3.1M1222.4 806.1v3.1M1236.1 806.1v5.8M1249.8 806.1v3.1M1263.5 806.1v3.1M1277.2 806.1v3.1M1290.9 806.1v3.1M1304.6 806.1v5.8M1304.6 806.1h5.9M1304.6 794.68h3.5M1304.6 783.26h3.5M1304.6 771.84h3.5M1304.6 760.42h3.5M1304.6 749h5.9M1304.6 737.58h3.5M1304.6 726.16h3.5M1304.6 714.74h3.5M1304.6 703.32h3.5M1304.6 691.9h5.9M1304.6 680.48h3.5M1304.6 669.06h3.5M1304.6 657.64h3.5M1304.6 646.22h3.5M1304.6 634.8h5.9M1304.6 623.38h3.5M1304.6 611.96h3.5M1304.6 600.54h3.5M1304.6 589.12h3.5M1304.6 577.7h5.9M1304.6 566.28h3.5M1304.6 554.86h3.5M1304.6 543.44h3.5M1304.6 532.02h3.5M1304.6 520.6h5.9M1304.6 509.18h3.5M1304.6 497.76h3.5M1304.6 486.34h3.5M1304.6 474.92h3.5M1304.6 463.5h5.9" stroke="#444" stroke-width="1.1" fill="none"/>
<path d="M962.1 806.1h-5.6M962.1 785.47h-2.7M962.1 773.41h-2.7M962.1 764.85h-2.7M962.1 758.21h-2.7M962.1 752.78h-2.7M962.1 748.19h-2.7M962.1 744.22h-2.7M962.1 740.72h-2.7M962.1 737.58h-5.6M962.1 716.95h-2.7M962.1 704.89h-2.7M962.1 696.33h-2.7M962.1 689.69h-2.7M962.1 684.26h-2.7M962.1 679.67h-2.7M962.1 675.7h-2.7M962.1 672.2h-2.7M962.1 669.06h-5.6M962.1 648.43h-2.7M962.1 636.37h-2.7M962.1 627.81h-2.7M962.1 621.17h-2.7M962.1 615.74h-2.7M962.1 611.15h-2.7M962.1 607.18h-2.7M962.1 603.68h-2.7M962.1 600.54h-5.6M962.1 579.91h-2.7M962.1 567.85h-2.7M962.1 559.29h-2.7M962.1 552.65h-2.7M962.1 547.22h-2.7M962.1 542.63h-2.7M962.1 538.66h-2.7M962.1 535.16h-2.7M962.1 532.02h-5.6M962.1 511.39h-2.7M962.1 499.33h-2.7M962.1 490.77h-2.7M962.1 484.13h-2.7M962.1 478.7h-2.7M962.1 474.11h-2.7M962.1 470.14h-2.7M962.1 466.64h-2.7M962.1 463.5h-5.6" stroke="#444" stroke-width="1.1" fill="none"/><g text-anchor="end"><text x="953.2" y="811.7"  font-size="17.2">10<tspan font-size="10.2" dy="-8">0</tspan></text><text x="953.2" y="743.18"  font-size="17.2">10<tspan font-size="10.2" dy="-8">1</tspan></text><text x="953.2" y="674.66"  font-size="17.2">10<tspan font-size="10.2" dy="-8">2</tspan></text><text x="953.2" y="606.14"  font-size="17.2">10<tspan font-size="10.2" dy="-8">3</tspan></text><text x="953.2" y="537.62"  font-size="17.2">10<tspan font-size="10.2" dy="-8">4</tspan></text><text x="953.2" y="469.1"  font-size="17.2">10<tspan font-size="10.2" dy="-8">5</tspan></text></g>
<g font-size="17.2" text-anchor="middle">
<text x="962.7" y="829.1">2</text>
<text x="1031.2" y="829.1">4</text>
<text x="1099.7" y="829.1">6</text>
<text x="1168.2" y="829.1">8</text>
<text x="1236.7" y="829.1">10</text>
<text x="1305.2" y="829.1">12</text>
</g>
<g font-size="17.2">
<text x="1314.8" y="811.2">0</text>
<text x="1314.8" y="754.1">150</text>
<text x="1314.8" y="697">300</text>
<text x="1314.8" y="639.9">450</text>
<text x="1314.8" y="582.8">600</text>
<text x="1314.8" y="525.7">750</text>
<text x="1314.8" y="468.6">900</text>
</g>
<text x="1128.7" y="848.6" font-size="18.8" text-anchor="middle" font-weight="bold">Voltage (V)</text>
<text transform="translate(914.5 642.8) rotate(-90)" text-anchor="middle" font-size="18.8" font-weight="bold">Luminance (cd m<tspan font-size="11.5" dy="-8">−2</tspan><tspan dy="8">)</tspan></text>
<text transform="translate(1372.3 642.6) rotate(-90)" text-anchor="middle" font-size="18.8" font-weight="bold">Current density (mA cm<tspan font-size="11.5" dy="-8">−2</tspan><tspan dy="8">)</tspan></text>
<g font-size="14.4"><path d="M967.4 471.9H999.8" stroke="#1a1a1a" stroke-width="0.9"/><circle cx="983.6" cy="471.9" r="3.05" fill="url(#s0)"/><text x="1004.4" y="477.1">Device B1</text><path d="M967.4 489.77H999.8" stroke="#ff2020" stroke-width="0.9"/><circle cx="983.6" cy="489.77" r="3.05" fill="url(#s1)"/><text x="1004.4" y="494.97">Device B2</text><path d="M967.4 507.64H999.8" stroke="#2020ff" stroke-width="0.9"/><circle cx="983.6" cy="507.64" r="3.05" fill="url(#s2)"/><text x="1004.4" y="512.84">Device B3</text><path d="M967.4 525.51H999.8" stroke="#ff20ff" stroke-width="0.9"/><circle cx="983.6" cy="525.51" r="3.05" fill="url(#s3)"/><text x="1004.4" y="530.71">Device B4</text><path d="M967.4 543.38H999.8" stroke="#0a8a0a" stroke-width="0.9"/><circle cx="983.6" cy="543.38" r="3.05" fill="url(#s4)"/><text x="1004.4" y="548.58">Device B5</text><path d="M967.4 561.25H999.8" stroke="#ff8a20" stroke-width="0.9"/><circle cx="983.6" cy="561.25" r="3.05" fill="url(#s5)"/><text x="1004.4" y="566.45">Device B6</text><path d="M967.4 579.12H999.8" stroke="#8a2aff" stroke-width="0.9"/><circle cx="983.6" cy="579.12" r="3.05" fill="url(#s6)"/><text x="1004.4" y="584.32">Device B7</text></g>
<g fill="none" stroke="#000" stroke-width="0.9">
<ellipse cx="1030.6" cy="690.1" rx="8.1" ry="49.7"/>
<ellipse cx="1133.3" cy="758.9" rx="9.1" ry="35.5"/>
<path d="M1030.6 640.4H1013M1133.3 794.4H1164"/>
</g>
<path d="M1008.2 640.4l7.6 -2.4v4.8zM1169.4 794.4l-7.6 -2.4v4.8z" fill="#000"/>
<rect x="1268" y="480.8" width="26.6" height="27" fill="#000"/><rect x="1263.8" y="476.6" width="26.6" height="27" fill="#fff" stroke="#888" stroke-width="0.8"/><text x="1277.6" y="496.8" font-size="16" text-anchor="middle" font-weight="bold">E</text>
</svg></body></html>
